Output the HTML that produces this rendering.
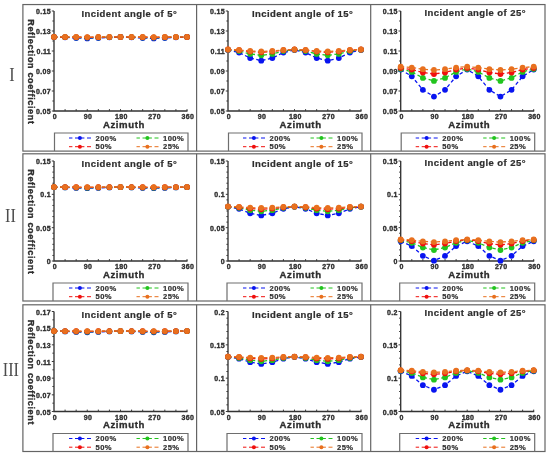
<!DOCTYPE html><html><head><meta charset="utf-8"><style>html,body{margin:0;padding:0;background:#fff;width:550px;height:456px;overflow:hidden}svg{display:block;filter:blur(0.25px)}</style></head><body>
<svg width="550" height="456" viewBox="0 0 550 456">
<rect x="22.9" y="4.55" width="522.1" height="146.55" fill="none" stroke="#646464" stroke-width="1.2"/>
<line x1="196.6" y1="4.55" x2="196.6" y2="151.1" stroke="#646464" stroke-width="1.2"/>
<line x1="370.7" y1="4.55" x2="370.7" y2="151.1" stroke="#646464" stroke-width="1.2"/>
<rect x="22.9" y="153.8" width="522.1" height="147.20" fill="none" stroke="#646464" stroke-width="1.2"/>
<line x1="196.6" y1="153.8" x2="196.6" y2="301.0" stroke="#646464" stroke-width="1.2"/>
<line x1="370.7" y1="153.8" x2="370.7" y2="301.0" stroke="#646464" stroke-width="1.2"/>
<rect x="22.9" y="304.8" width="522.1" height="146.70" fill="none" stroke="#646464" stroke-width="1.2"/>
<line x1="196.6" y1="304.8" x2="196.6" y2="451.5" stroke="#646464" stroke-width="1.2"/>
<line x1="370.7" y1="304.8" x2="370.7" y2="451.5" stroke="#646464" stroke-width="1.2"/>
<text transform="translate(11.9,80.9) scale(0.9,1)" x="0" y="0" text-anchor="middle" style="font-family:'Liberation Serif',serif;font-size:18px" fill="#4c4c4c">I</text>
<text transform="translate(10.4,221.7) scale(0.9,1)" x="0" y="0" text-anchor="middle" style="font-family:'Liberation Serif',serif;font-size:18px" fill="#4c4c4c">II</text>
<text transform="translate(10.9,375.8) scale(0.9,1)" x="0" y="0" text-anchor="middle" style="font-family:'Liberation Serif',serif;font-size:18px" fill="#4c4c4c">III</text>
<text transform="translate(129.3,17.1) scale(1.0,1)" text-anchor="middle" style="font-family:'Liberation Sans',sans-serif;font-weight:bold;font-size:9.5px;letter-spacing:0.42px;stroke:#2e2e2e;stroke-width:0.22px" fill="#2e2e2e">Incident angle of 5°</text>
<path d="M54 11 L54 111 L187.5 111" fill="none" stroke="#333" stroke-width="1.35"/>
<line x1="51.8" y1="111.0" x2="54" y2="111.0" stroke="#3a3a3a" stroke-width="1"/>
<text x="51.1" y="114.0" text-anchor="end" style="font-family:'Liberation Sans',sans-serif;font-weight:bold;font-size:7.0px;letter-spacing:0.35px;stroke:#2e2e2e;stroke-width:0.35px" fill="#2e2e2e">0.05</text>
<line x1="52.4" y1="101.0" x2="54" y2="101.0" stroke="#3a3a3a" stroke-width="1"/>
<line x1="51.8" y1="91.0" x2="54" y2="91.0" stroke="#3a3a3a" stroke-width="1"/>
<text x="51.1" y="94.0" text-anchor="end" style="font-family:'Liberation Sans',sans-serif;font-weight:bold;font-size:7.0px;letter-spacing:0.35px;stroke:#2e2e2e;stroke-width:0.35px" fill="#2e2e2e">0.07</text>
<line x1="52.4" y1="81.0" x2="54" y2="81.0" stroke="#3a3a3a" stroke-width="1"/>
<line x1="51.8" y1="71.0" x2="54" y2="71.0" stroke="#3a3a3a" stroke-width="1"/>
<text x="51.1" y="74.0" text-anchor="end" style="font-family:'Liberation Sans',sans-serif;font-weight:bold;font-size:7.0px;letter-spacing:0.35px;stroke:#2e2e2e;stroke-width:0.35px" fill="#2e2e2e">0.09</text>
<line x1="52.4" y1="60.999999999999986" x2="54" y2="60.999999999999986" stroke="#3a3a3a" stroke-width="1"/>
<line x1="51.8" y1="51.0" x2="54" y2="51.0" stroke="#3a3a3a" stroke-width="1"/>
<text x="51.1" y="54.0" text-anchor="end" style="font-family:'Liberation Sans',sans-serif;font-weight:bold;font-size:7.0px;letter-spacing:0.35px;stroke:#2e2e2e;stroke-width:0.35px" fill="#2e2e2e">0.11</text>
<line x1="52.4" y1="41.0" x2="54" y2="41.0" stroke="#3a3a3a" stroke-width="1"/>
<line x1="51.8" y1="31.0" x2="54" y2="31.0" stroke="#3a3a3a" stroke-width="1"/>
<text x="51.1" y="34.0" text-anchor="end" style="font-family:'Liberation Sans',sans-serif;font-weight:bold;font-size:7.0px;letter-spacing:0.35px;stroke:#2e2e2e;stroke-width:0.35px" fill="#2e2e2e">0.13</text>
<line x1="52.4" y1="20.999999999999986" x2="54" y2="20.999999999999986" stroke="#3a3a3a" stroke-width="1"/>
<line x1="51.8" y1="11.0" x2="54" y2="11.0" stroke="#3a3a3a" stroke-width="1"/>
<text x="51.1" y="14.0" text-anchor="end" style="font-family:'Liberation Sans',sans-serif;font-weight:bold;font-size:7.0px;letter-spacing:0.35px;stroke:#2e2e2e;stroke-width:0.35px" fill="#2e2e2e">0.15</text>
<line x1="65.08333333333333" y1="111" x2="65.08333333333333" y2="109.1" stroke="#3a3a3a" stroke-width="1"/>
<line x1="76.16666666666666" y1="111" x2="76.16666666666666" y2="109.1" stroke="#3a3a3a" stroke-width="1"/>
<line x1="87.25" y1="111" x2="87.25" y2="109.1" stroke="#3a3a3a" stroke-width="1"/>
<line x1="98.33333333333333" y1="111" x2="98.33333333333333" y2="109.1" stroke="#3a3a3a" stroke-width="1"/>
<line x1="109.41666666666667" y1="111" x2="109.41666666666667" y2="109.1" stroke="#3a3a3a" stroke-width="1"/>
<line x1="120.5" y1="111" x2="120.5" y2="109.1" stroke="#3a3a3a" stroke-width="1"/>
<line x1="131.58333333333334" y1="111" x2="131.58333333333334" y2="109.1" stroke="#3a3a3a" stroke-width="1"/>
<line x1="142.66666666666666" y1="111" x2="142.66666666666666" y2="109.1" stroke="#3a3a3a" stroke-width="1"/>
<line x1="153.75" y1="111" x2="153.75" y2="109.1" stroke="#3a3a3a" stroke-width="1"/>
<line x1="164.83333333333334" y1="111" x2="164.83333333333334" y2="109.1" stroke="#3a3a3a" stroke-width="1"/>
<line x1="175.91666666666666" y1="111" x2="175.91666666666666" y2="109.1" stroke="#3a3a3a" stroke-width="1"/>
<line x1="187.0" y1="111" x2="187.0" y2="109.1" stroke="#3a3a3a" stroke-width="1"/>
<text x="54.8" y="119.3" text-anchor="middle" style="font-family:'Liberation Sans',sans-serif;font-weight:bold;font-size:7.0px;letter-spacing:0.35px;stroke:#2e2e2e;stroke-width:0.35px" fill="#2e2e2e">0</text>
<text x="88.05" y="119.3" text-anchor="middle" style="font-family:'Liberation Sans',sans-serif;font-weight:bold;font-size:7.0px;letter-spacing:0.35px;stroke:#2e2e2e;stroke-width:0.35px" fill="#2e2e2e">90</text>
<text x="121.3" y="119.3" text-anchor="middle" style="font-family:'Liberation Sans',sans-serif;font-weight:bold;font-size:7.0px;letter-spacing:0.35px;stroke:#2e2e2e;stroke-width:0.35px" fill="#2e2e2e">180</text>
<text x="154.55" y="119.3" text-anchor="middle" style="font-family:'Liberation Sans',sans-serif;font-weight:bold;font-size:7.0px;letter-spacing:0.35px;stroke:#2e2e2e;stroke-width:0.35px" fill="#2e2e2e">270</text>
<text x="187.8" y="119.3" text-anchor="middle" style="font-family:'Liberation Sans',sans-serif;font-weight:bold;font-size:7.0px;letter-spacing:0.35px;stroke:#2e2e2e;stroke-width:0.35px" fill="#2e2e2e">360</text>
<text x="123.9" y="127.7" text-anchor="middle" style="font-family:'Liberation Sans',sans-serif;font-weight:bold;font-size:9.6px;letter-spacing:0.6px;stroke:#2e2e2e;stroke-width:0.35px" fill="#2e2e2e">Azimuth</text>
<text transform="translate(28.2,71.9) rotate(90)" text-anchor="middle" style="font-family:'Liberation Sans',sans-serif;font-weight:bold;font-size:9.0px;letter-spacing:0.65px;stroke:#2e2e2e;stroke-width:0.35px" fill="#2e2e2e">Reflection coefficient</text>
<path d="M54.00 37.00 L65.08 37.35 L76.17 38.05 L87.25 38.40 L98.33 38.05 L109.42 37.35 L120.50 37.00 L131.58 37.35 L142.67 38.05 L153.75 38.40 L164.83 38.05 L175.92 37.35 L187.00 37.00" fill="none" stroke="#0814f0" stroke-width="1.3" stroke-dasharray="3.5 2.5"/>
<circle cx="54.00" cy="37.00" r="2.9" fill="#0814f0"/>
<circle cx="65.08" cy="37.35" r="2.9" fill="#0814f0"/>
<circle cx="76.17" cy="38.05" r="2.9" fill="#0814f0"/>
<circle cx="87.25" cy="38.40" r="2.9" fill="#0814f0"/>
<circle cx="98.33" cy="38.05" r="2.9" fill="#0814f0"/>
<circle cx="109.42" cy="37.35" r="2.9" fill="#0814f0"/>
<circle cx="120.50" cy="37.00" r="2.9" fill="#0814f0"/>
<circle cx="131.58" cy="37.35" r="2.9" fill="#0814f0"/>
<circle cx="142.67" cy="38.05" r="2.9" fill="#0814f0"/>
<circle cx="153.75" cy="38.40" r="2.9" fill="#0814f0"/>
<circle cx="164.83" cy="38.05" r="2.9" fill="#0814f0"/>
<circle cx="175.92" cy="37.35" r="2.9" fill="#0814f0"/>
<circle cx="187.00" cy="37.00" r="2.9" fill="#0814f0"/>
<path d="M54.00 37.00 L65.08 37.15 L76.17 37.45 L87.25 37.60 L98.33 37.45 L109.42 37.15 L120.50 37.00 L131.58 37.15 L142.67 37.45 L153.75 37.60 L164.83 37.45 L175.92 37.15 L187.00 37.00" fill="none" stroke="#22c41e" stroke-width="1.3" stroke-dasharray="3.5 2.5"/>
<circle cx="54.00" cy="37.00" r="2.9" fill="#22c41e"/>
<circle cx="65.08" cy="37.15" r="2.9" fill="#22c41e"/>
<circle cx="76.17" cy="37.45" r="2.9" fill="#22c41e"/>
<circle cx="87.25" cy="37.60" r="2.9" fill="#22c41e"/>
<circle cx="98.33" cy="37.45" r="2.9" fill="#22c41e"/>
<circle cx="109.42" cy="37.15" r="2.9" fill="#22c41e"/>
<circle cx="120.50" cy="37.00" r="2.9" fill="#22c41e"/>
<circle cx="131.58" cy="37.15" r="2.9" fill="#22c41e"/>
<circle cx="142.67" cy="37.45" r="2.9" fill="#22c41e"/>
<circle cx="153.75" cy="37.60" r="2.9" fill="#22c41e"/>
<circle cx="164.83" cy="37.45" r="2.9" fill="#22c41e"/>
<circle cx="175.92" cy="37.15" r="2.9" fill="#22c41e"/>
<circle cx="187.00" cy="37.00" r="2.9" fill="#22c41e"/>
<path d="M54.00 37.00 L65.08 37.08 L76.17 37.22 L87.25 37.30 L98.33 37.22 L109.42 37.08 L120.50 37.00 L131.58 37.08 L142.67 37.22 L153.75 37.30 L164.83 37.22 L175.92 37.08 L187.00 37.00" fill="none" stroke="#f0100e" stroke-width="1.3" stroke-dasharray="3.5 2.5"/>
<circle cx="54.00" cy="37.00" r="2.9" fill="#f0100e"/>
<circle cx="65.08" cy="37.08" r="2.9" fill="#f0100e"/>
<circle cx="76.17" cy="37.22" r="2.9" fill="#f0100e"/>
<circle cx="87.25" cy="37.30" r="2.9" fill="#f0100e"/>
<circle cx="98.33" cy="37.22" r="2.9" fill="#f0100e"/>
<circle cx="109.42" cy="37.08" r="2.9" fill="#f0100e"/>
<circle cx="120.50" cy="37.00" r="2.9" fill="#f0100e"/>
<circle cx="131.58" cy="37.08" r="2.9" fill="#f0100e"/>
<circle cx="142.67" cy="37.22" r="2.9" fill="#f0100e"/>
<circle cx="153.75" cy="37.30" r="2.9" fill="#f0100e"/>
<circle cx="164.83" cy="37.22" r="2.9" fill="#f0100e"/>
<circle cx="175.92" cy="37.08" r="2.9" fill="#f0100e"/>
<circle cx="187.00" cy="37.00" r="2.9" fill="#f0100e"/>
<path d="M54.00 36.90 L65.08 36.94 L76.17 37.01 L87.25 37.05 L98.33 37.01 L109.42 36.94 L120.50 36.90 L131.58 36.94 L142.67 37.01 L153.75 37.05 L164.83 37.01 L175.92 36.94 L187.00 36.90" fill="none" stroke="#e8701e" stroke-width="1.3" stroke-dasharray="3.5 2.5"/>
<circle cx="54.00" cy="36.90" r="2.9" fill="#e8701e"/>
<circle cx="65.08" cy="36.94" r="2.9" fill="#e8701e"/>
<circle cx="76.17" cy="37.01" r="2.9" fill="#e8701e"/>
<circle cx="87.25" cy="37.05" r="2.9" fill="#e8701e"/>
<circle cx="98.33" cy="37.01" r="2.9" fill="#e8701e"/>
<circle cx="109.42" cy="36.94" r="2.9" fill="#e8701e"/>
<circle cx="120.50" cy="36.90" r="2.9" fill="#e8701e"/>
<circle cx="131.58" cy="36.94" r="2.9" fill="#e8701e"/>
<circle cx="142.67" cy="37.01" r="2.9" fill="#e8701e"/>
<circle cx="153.75" cy="37.05" r="2.9" fill="#e8701e"/>
<circle cx="164.83" cy="37.01" r="2.9" fill="#e8701e"/>
<circle cx="175.92" cy="36.94" r="2.9" fill="#e8701e"/>
<circle cx="187.00" cy="36.90" r="2.9" fill="#e8701e"/>
<path d="M54.5 151.1 L54.5 133 L188.0 133 L188.0 151.1" fill="none" stroke="#6e6e6e" stroke-width="1.2"/>
<line x1="69.0" y1="138.0" x2="91.0" y2="138.0" stroke="#0814f0" stroke-width="1.0" stroke-dasharray="3.4 2.6 9.4 2.6 4"/>
<circle cx="79.9" cy="138.0" r="2.0" fill="#0814f0"/>
<text x="95.5" y="140.7" style="font-family:'Liberation Sans',sans-serif;font-weight:bold;font-size:7.6px;letter-spacing:0.45px;stroke:#2e2e2e;stroke-width:0.2px" fill="#2e2e2e">200%</text>
<line x1="136.5" y1="138.0" x2="158.5" y2="138.0" stroke="#22c41e" stroke-width="1.0" stroke-dasharray="3.4 2.6 9.4 2.6 4"/>
<circle cx="147.4" cy="138.0" r="2.0" fill="#22c41e"/>
<text x="163.0" y="140.7" style="font-family:'Liberation Sans',sans-serif;font-weight:bold;font-size:7.6px;letter-spacing:0.45px;stroke:#2e2e2e;stroke-width:0.2px" fill="#2e2e2e">100%</text>
<line x1="69.0" y1="146.7" x2="91.0" y2="146.7" stroke="#f0100e" stroke-width="1.0" stroke-dasharray="3.4 2.6 9.4 2.6 4"/>
<circle cx="79.9" cy="146.7" r="2.0" fill="#f0100e"/>
<text x="95.5" y="149.39999999999998" style="font-family:'Liberation Sans',sans-serif;font-weight:bold;font-size:7.6px;letter-spacing:0.45px;stroke:#2e2e2e;stroke-width:0.2px" fill="#2e2e2e">50%</text>
<line x1="136.5" y1="146.7" x2="158.5" y2="146.7" stroke="#e8701e" stroke-width="1.0" stroke-dasharray="3.4 2.6 9.4 2.6 4"/>
<circle cx="147.4" cy="146.7" r="2.0" fill="#e8701e"/>
<text x="163.0" y="149.39999999999998" style="font-family:'Liberation Sans',sans-serif;font-weight:bold;font-size:7.6px;letter-spacing:0.45px;stroke:#2e2e2e;stroke-width:0.2px" fill="#2e2e2e">25%</text>
<text transform="translate(302.6,17.1) scale(1.0,1)" text-anchor="middle" style="font-family:'Liberation Sans',sans-serif;font-weight:bold;font-size:9.5px;letter-spacing:0.42px;stroke:#2e2e2e;stroke-width:0.22px" fill="#2e2e2e">Incident angle of 15°</text>
<path d="M228 11 L228 111 L361.5 111" fill="none" stroke="#333" stroke-width="1.35"/>
<line x1="225.8" y1="111.0" x2="228" y2="111.0" stroke="#3a3a3a" stroke-width="1"/>
<text x="225.1" y="114.0" text-anchor="end" style="font-family:'Liberation Sans',sans-serif;font-weight:bold;font-size:7.0px;letter-spacing:0.35px;stroke:#2e2e2e;stroke-width:0.35px" fill="#2e2e2e">0.05</text>
<line x1="226.4" y1="101.0" x2="228" y2="101.0" stroke="#3a3a3a" stroke-width="1"/>
<line x1="225.8" y1="91.0" x2="228" y2="91.0" stroke="#3a3a3a" stroke-width="1"/>
<text x="225.1" y="94.0" text-anchor="end" style="font-family:'Liberation Sans',sans-serif;font-weight:bold;font-size:7.0px;letter-spacing:0.35px;stroke:#2e2e2e;stroke-width:0.35px" fill="#2e2e2e">0.07</text>
<line x1="226.4" y1="81.0" x2="228" y2="81.0" stroke="#3a3a3a" stroke-width="1"/>
<line x1="225.8" y1="71.0" x2="228" y2="71.0" stroke="#3a3a3a" stroke-width="1"/>
<text x="225.1" y="74.0" text-anchor="end" style="font-family:'Liberation Sans',sans-serif;font-weight:bold;font-size:7.0px;letter-spacing:0.35px;stroke:#2e2e2e;stroke-width:0.35px" fill="#2e2e2e">0.09</text>
<line x1="226.4" y1="60.999999999999986" x2="228" y2="60.999999999999986" stroke="#3a3a3a" stroke-width="1"/>
<line x1="225.8" y1="51.0" x2="228" y2="51.0" stroke="#3a3a3a" stroke-width="1"/>
<text x="225.1" y="54.0" text-anchor="end" style="font-family:'Liberation Sans',sans-serif;font-weight:bold;font-size:7.0px;letter-spacing:0.35px;stroke:#2e2e2e;stroke-width:0.35px" fill="#2e2e2e">0.11</text>
<line x1="226.4" y1="41.0" x2="228" y2="41.0" stroke="#3a3a3a" stroke-width="1"/>
<line x1="225.8" y1="31.0" x2="228" y2="31.0" stroke="#3a3a3a" stroke-width="1"/>
<text x="225.1" y="34.0" text-anchor="end" style="font-family:'Liberation Sans',sans-serif;font-weight:bold;font-size:7.0px;letter-spacing:0.35px;stroke:#2e2e2e;stroke-width:0.35px" fill="#2e2e2e">0.13</text>
<line x1="226.4" y1="20.999999999999986" x2="228" y2="20.999999999999986" stroke="#3a3a3a" stroke-width="1"/>
<line x1="225.8" y1="11.0" x2="228" y2="11.0" stroke="#3a3a3a" stroke-width="1"/>
<text x="225.1" y="14.0" text-anchor="end" style="font-family:'Liberation Sans',sans-serif;font-weight:bold;font-size:7.0px;letter-spacing:0.35px;stroke:#2e2e2e;stroke-width:0.35px" fill="#2e2e2e">0.15</text>
<line x1="239.08333333333334" y1="111" x2="239.08333333333334" y2="109.1" stroke="#3a3a3a" stroke-width="1"/>
<line x1="250.16666666666666" y1="111" x2="250.16666666666666" y2="109.1" stroke="#3a3a3a" stroke-width="1"/>
<line x1="261.25" y1="111" x2="261.25" y2="109.1" stroke="#3a3a3a" stroke-width="1"/>
<line x1="272.3333333333333" y1="111" x2="272.3333333333333" y2="109.1" stroke="#3a3a3a" stroke-width="1"/>
<line x1="283.4166666666667" y1="111" x2="283.4166666666667" y2="109.1" stroke="#3a3a3a" stroke-width="1"/>
<line x1="294.5" y1="111" x2="294.5" y2="109.1" stroke="#3a3a3a" stroke-width="1"/>
<line x1="305.58333333333337" y1="111" x2="305.58333333333337" y2="109.1" stroke="#3a3a3a" stroke-width="1"/>
<line x1="316.66666666666663" y1="111" x2="316.66666666666663" y2="109.1" stroke="#3a3a3a" stroke-width="1"/>
<line x1="327.75" y1="111" x2="327.75" y2="109.1" stroke="#3a3a3a" stroke-width="1"/>
<line x1="338.83333333333337" y1="111" x2="338.83333333333337" y2="109.1" stroke="#3a3a3a" stroke-width="1"/>
<line x1="349.91666666666663" y1="111" x2="349.91666666666663" y2="109.1" stroke="#3a3a3a" stroke-width="1"/>
<line x1="361.0" y1="111" x2="361.0" y2="109.1" stroke="#3a3a3a" stroke-width="1"/>
<text x="228.8" y="119.3" text-anchor="middle" style="font-family:'Liberation Sans',sans-serif;font-weight:bold;font-size:7.0px;letter-spacing:0.35px;stroke:#2e2e2e;stroke-width:0.35px" fill="#2e2e2e">0</text>
<text x="262.05" y="119.3" text-anchor="middle" style="font-family:'Liberation Sans',sans-serif;font-weight:bold;font-size:7.0px;letter-spacing:0.35px;stroke:#2e2e2e;stroke-width:0.35px" fill="#2e2e2e">90</text>
<text x="295.3" y="119.3" text-anchor="middle" style="font-family:'Liberation Sans',sans-serif;font-weight:bold;font-size:7.0px;letter-spacing:0.35px;stroke:#2e2e2e;stroke-width:0.35px" fill="#2e2e2e">180</text>
<text x="328.55" y="119.3" text-anchor="middle" style="font-family:'Liberation Sans',sans-serif;font-weight:bold;font-size:7.0px;letter-spacing:0.35px;stroke:#2e2e2e;stroke-width:0.35px" fill="#2e2e2e">270</text>
<text x="361.8" y="119.3" text-anchor="middle" style="font-family:'Liberation Sans',sans-serif;font-weight:bold;font-size:7.0px;letter-spacing:0.35px;stroke:#2e2e2e;stroke-width:0.35px" fill="#2e2e2e">360</text>
<text x="300.6" y="127.7" text-anchor="middle" style="font-family:'Liberation Sans',sans-serif;font-weight:bold;font-size:9.6px;letter-spacing:0.6px;stroke:#2e2e2e;stroke-width:0.35px" fill="#2e2e2e">Azimuth</text>
<path d="M228.00 49.90 L239.08 52.60 L250.17 58.00 L261.25 60.70 L272.33 58.00 L283.42 52.60 L294.50 49.90 L305.58 52.60 L316.67 58.00 L327.75 60.70 L338.83 58.00 L349.92 52.60 L361.00 49.90" fill="none" stroke="#0814f0" stroke-width="1.3" stroke-dasharray="3.5 2.5"/>
<circle cx="228.00" cy="49.90" r="2.9" fill="#0814f0"/>
<circle cx="239.08" cy="52.60" r="2.9" fill="#0814f0"/>
<circle cx="250.17" cy="58.00" r="2.9" fill="#0814f0"/>
<circle cx="261.25" cy="60.70" r="2.9" fill="#0814f0"/>
<circle cx="272.33" cy="58.00" r="2.9" fill="#0814f0"/>
<circle cx="283.42" cy="52.60" r="2.9" fill="#0814f0"/>
<circle cx="294.50" cy="49.90" r="2.9" fill="#0814f0"/>
<circle cx="305.58" cy="52.60" r="2.9" fill="#0814f0"/>
<circle cx="316.67" cy="58.00" r="2.9" fill="#0814f0"/>
<circle cx="327.75" cy="60.70" r="2.9" fill="#0814f0"/>
<circle cx="338.83" cy="58.00" r="2.9" fill="#0814f0"/>
<circle cx="349.92" cy="52.60" r="2.9" fill="#0814f0"/>
<circle cx="361.00" cy="49.90" r="2.9" fill="#0814f0"/>
<path d="M228.00 49.70 L239.08 51.10 L250.17 53.90 L261.25 55.30 L272.33 53.90 L283.42 51.10 L294.50 49.70 L305.58 51.10 L316.67 53.90 L327.75 55.30 L338.83 53.90 L349.92 51.10 L361.00 49.70" fill="none" stroke="#22c41e" stroke-width="1.3" stroke-dasharray="3.5 2.5"/>
<circle cx="228.00" cy="49.70" r="2.9" fill="#22c41e"/>
<circle cx="239.08" cy="51.10" r="2.9" fill="#22c41e"/>
<circle cx="250.17" cy="53.90" r="2.9" fill="#22c41e"/>
<circle cx="261.25" cy="55.30" r="2.9" fill="#22c41e"/>
<circle cx="272.33" cy="53.90" r="2.9" fill="#22c41e"/>
<circle cx="283.42" cy="51.10" r="2.9" fill="#22c41e"/>
<circle cx="294.50" cy="49.70" r="2.9" fill="#22c41e"/>
<circle cx="305.58" cy="51.10" r="2.9" fill="#22c41e"/>
<circle cx="316.67" cy="53.90" r="2.9" fill="#22c41e"/>
<circle cx="327.75" cy="55.30" r="2.9" fill="#22c41e"/>
<circle cx="338.83" cy="53.90" r="2.9" fill="#22c41e"/>
<circle cx="349.92" cy="51.10" r="2.9" fill="#22c41e"/>
<circle cx="361.00" cy="49.70" r="2.9" fill="#22c41e"/>
<path d="M228.00 49.50 L239.08 50.20 L250.17 51.60 L261.25 52.30 L272.33 51.60 L283.42 50.20 L294.50 49.50 L305.58 50.20 L316.67 51.60 L327.75 52.30 L338.83 51.60 L349.92 50.20 L361.00 49.50" fill="none" stroke="#f0100e" stroke-width="1.3" stroke-dasharray="3.5 2.5"/>
<circle cx="228.00" cy="49.50" r="2.9" fill="#f0100e"/>
<circle cx="239.08" cy="50.20" r="2.9" fill="#f0100e"/>
<circle cx="250.17" cy="51.60" r="2.9" fill="#f0100e"/>
<circle cx="261.25" cy="52.30" r="2.9" fill="#f0100e"/>
<circle cx="272.33" cy="51.60" r="2.9" fill="#f0100e"/>
<circle cx="283.42" cy="50.20" r="2.9" fill="#f0100e"/>
<circle cx="294.50" cy="49.50" r="2.9" fill="#f0100e"/>
<circle cx="305.58" cy="50.20" r="2.9" fill="#f0100e"/>
<circle cx="316.67" cy="51.60" r="2.9" fill="#f0100e"/>
<circle cx="327.75" cy="52.30" r="2.9" fill="#f0100e"/>
<circle cx="338.83" cy="51.60" r="2.9" fill="#f0100e"/>
<circle cx="349.92" cy="50.20" r="2.9" fill="#f0100e"/>
<circle cx="361.00" cy="49.50" r="2.9" fill="#f0100e"/>
<path d="M228.00 49.50 L239.08 50.00 L250.17 51.00 L261.25 51.50 L272.33 51.00 L283.42 50.00 L294.50 49.50 L305.58 50.00 L316.67 51.00 L327.75 51.50 L338.83 51.00 L349.92 50.00 L361.00 49.50" fill="none" stroke="#e8701e" stroke-width="1.3" stroke-dasharray="3.5 2.5"/>
<circle cx="228.00" cy="49.50" r="2.9" fill="#e8701e"/>
<circle cx="239.08" cy="50.00" r="2.9" fill="#e8701e"/>
<circle cx="250.17" cy="51.00" r="2.9" fill="#e8701e"/>
<circle cx="261.25" cy="51.50" r="2.9" fill="#e8701e"/>
<circle cx="272.33" cy="51.00" r="2.9" fill="#e8701e"/>
<circle cx="283.42" cy="50.00" r="2.9" fill="#e8701e"/>
<circle cx="294.50" cy="49.50" r="2.9" fill="#e8701e"/>
<circle cx="305.58" cy="50.00" r="2.9" fill="#e8701e"/>
<circle cx="316.67" cy="51.00" r="2.9" fill="#e8701e"/>
<circle cx="327.75" cy="51.50" r="2.9" fill="#e8701e"/>
<circle cx="338.83" cy="51.00" r="2.9" fill="#e8701e"/>
<circle cx="349.92" cy="50.00" r="2.9" fill="#e8701e"/>
<circle cx="361.00" cy="49.50" r="2.9" fill="#e8701e"/>
<path d="M228.5 151.1 L228.5 133 L362.0 133 L362.0 151.1" fill="none" stroke="#6e6e6e" stroke-width="1.2"/>
<line x1="243.0" y1="138.0" x2="265.0" y2="138.0" stroke="#0814f0" stroke-width="1.0" stroke-dasharray="3.4 2.6 9.4 2.6 4"/>
<circle cx="253.9" cy="138.0" r="2.0" fill="#0814f0"/>
<text x="269.5" y="140.7" style="font-family:'Liberation Sans',sans-serif;font-weight:bold;font-size:7.6px;letter-spacing:0.45px;stroke:#2e2e2e;stroke-width:0.2px" fill="#2e2e2e">200%</text>
<line x1="310.5" y1="138.0" x2="332.5" y2="138.0" stroke="#22c41e" stroke-width="1.0" stroke-dasharray="3.4 2.6 9.4 2.6 4"/>
<circle cx="321.4" cy="138.0" r="2.0" fill="#22c41e"/>
<text x="337.0" y="140.7" style="font-family:'Liberation Sans',sans-serif;font-weight:bold;font-size:7.6px;letter-spacing:0.45px;stroke:#2e2e2e;stroke-width:0.2px" fill="#2e2e2e">100%</text>
<line x1="243.0" y1="146.7" x2="265.0" y2="146.7" stroke="#f0100e" stroke-width="1.0" stroke-dasharray="3.4 2.6 9.4 2.6 4"/>
<circle cx="253.9" cy="146.7" r="2.0" fill="#f0100e"/>
<text x="269.5" y="149.39999999999998" style="font-family:'Liberation Sans',sans-serif;font-weight:bold;font-size:7.6px;letter-spacing:0.45px;stroke:#2e2e2e;stroke-width:0.2px" fill="#2e2e2e">50%</text>
<line x1="310.5" y1="146.7" x2="332.5" y2="146.7" stroke="#e8701e" stroke-width="1.0" stroke-dasharray="3.4 2.6 9.4 2.6 4"/>
<circle cx="321.4" cy="146.7" r="2.0" fill="#e8701e"/>
<text x="337.0" y="149.39999999999998" style="font-family:'Liberation Sans',sans-serif;font-weight:bold;font-size:7.6px;letter-spacing:0.45px;stroke:#2e2e2e;stroke-width:0.2px" fill="#2e2e2e">25%</text>
<text transform="translate(475.2,15.500000000000002) scale(1.0,1)" text-anchor="middle" style="font-family:'Liberation Sans',sans-serif;font-weight:bold;font-size:9.5px;letter-spacing:0.42px;stroke:#2e2e2e;stroke-width:0.22px" fill="#2e2e2e">Incident angle of 25°</text>
<path d="M400.7 11 L400.7 111 L534.2 111" fill="none" stroke="#333" stroke-width="1.35"/>
<line x1="398.5" y1="111.0" x2="400.7" y2="111.0" stroke="#3a3a3a" stroke-width="1"/>
<text x="397.8" y="114.0" text-anchor="end" style="font-family:'Liberation Sans',sans-serif;font-weight:bold;font-size:7.0px;letter-spacing:0.35px;stroke:#2e2e2e;stroke-width:0.35px" fill="#2e2e2e">0.05</text>
<line x1="399.09999999999997" y1="101.0" x2="400.7" y2="101.0" stroke="#3a3a3a" stroke-width="1"/>
<line x1="398.5" y1="91.0" x2="400.7" y2="91.0" stroke="#3a3a3a" stroke-width="1"/>
<text x="397.8" y="94.0" text-anchor="end" style="font-family:'Liberation Sans',sans-serif;font-weight:bold;font-size:7.0px;letter-spacing:0.35px;stroke:#2e2e2e;stroke-width:0.35px" fill="#2e2e2e">0.07</text>
<line x1="399.09999999999997" y1="81.0" x2="400.7" y2="81.0" stroke="#3a3a3a" stroke-width="1"/>
<line x1="398.5" y1="71.0" x2="400.7" y2="71.0" stroke="#3a3a3a" stroke-width="1"/>
<text x="397.8" y="74.0" text-anchor="end" style="font-family:'Liberation Sans',sans-serif;font-weight:bold;font-size:7.0px;letter-spacing:0.35px;stroke:#2e2e2e;stroke-width:0.35px" fill="#2e2e2e">0.09</text>
<line x1="399.09999999999997" y1="60.999999999999986" x2="400.7" y2="60.999999999999986" stroke="#3a3a3a" stroke-width="1"/>
<line x1="398.5" y1="51.0" x2="400.7" y2="51.0" stroke="#3a3a3a" stroke-width="1"/>
<text x="397.8" y="54.0" text-anchor="end" style="font-family:'Liberation Sans',sans-serif;font-weight:bold;font-size:7.0px;letter-spacing:0.35px;stroke:#2e2e2e;stroke-width:0.35px" fill="#2e2e2e">0.11</text>
<line x1="399.09999999999997" y1="41.0" x2="400.7" y2="41.0" stroke="#3a3a3a" stroke-width="1"/>
<line x1="398.5" y1="31.0" x2="400.7" y2="31.0" stroke="#3a3a3a" stroke-width="1"/>
<text x="397.8" y="34.0" text-anchor="end" style="font-family:'Liberation Sans',sans-serif;font-weight:bold;font-size:7.0px;letter-spacing:0.35px;stroke:#2e2e2e;stroke-width:0.35px" fill="#2e2e2e">0.13</text>
<line x1="399.09999999999997" y1="20.999999999999986" x2="400.7" y2="20.999999999999986" stroke="#3a3a3a" stroke-width="1"/>
<line x1="398.5" y1="11.0" x2="400.7" y2="11.0" stroke="#3a3a3a" stroke-width="1"/>
<text x="397.8" y="14.0" text-anchor="end" style="font-family:'Liberation Sans',sans-serif;font-weight:bold;font-size:7.0px;letter-spacing:0.35px;stroke:#2e2e2e;stroke-width:0.35px" fill="#2e2e2e">0.15</text>
<line x1="411.7833333333333" y1="111" x2="411.7833333333333" y2="109.1" stroke="#3a3a3a" stroke-width="1"/>
<line x1="422.8666666666667" y1="111" x2="422.8666666666667" y2="109.1" stroke="#3a3a3a" stroke-width="1"/>
<line x1="433.95" y1="111" x2="433.95" y2="109.1" stroke="#3a3a3a" stroke-width="1"/>
<line x1="445.0333333333333" y1="111" x2="445.0333333333333" y2="109.1" stroke="#3a3a3a" stroke-width="1"/>
<line x1="456.1166666666667" y1="111" x2="456.1166666666667" y2="109.1" stroke="#3a3a3a" stroke-width="1"/>
<line x1="467.2" y1="111" x2="467.2" y2="109.1" stroke="#3a3a3a" stroke-width="1"/>
<line x1="478.2833333333333" y1="111" x2="478.2833333333333" y2="109.1" stroke="#3a3a3a" stroke-width="1"/>
<line x1="489.3666666666667" y1="111" x2="489.3666666666667" y2="109.1" stroke="#3a3a3a" stroke-width="1"/>
<line x1="500.45" y1="111" x2="500.45" y2="109.1" stroke="#3a3a3a" stroke-width="1"/>
<line x1="511.5333333333333" y1="111" x2="511.5333333333333" y2="109.1" stroke="#3a3a3a" stroke-width="1"/>
<line x1="522.6166666666667" y1="111" x2="522.6166666666667" y2="109.1" stroke="#3a3a3a" stroke-width="1"/>
<line x1="533.7" y1="111" x2="533.7" y2="109.1" stroke="#3a3a3a" stroke-width="1"/>
<text x="401.5" y="119.3" text-anchor="middle" style="font-family:'Liberation Sans',sans-serif;font-weight:bold;font-size:7.0px;letter-spacing:0.35px;stroke:#2e2e2e;stroke-width:0.35px" fill="#2e2e2e">0</text>
<text x="434.75" y="119.3" text-anchor="middle" style="font-family:'Liberation Sans',sans-serif;font-weight:bold;font-size:7.0px;letter-spacing:0.35px;stroke:#2e2e2e;stroke-width:0.35px" fill="#2e2e2e">90</text>
<text x="468.0" y="119.3" text-anchor="middle" style="font-family:'Liberation Sans',sans-serif;font-weight:bold;font-size:7.0px;letter-spacing:0.35px;stroke:#2e2e2e;stroke-width:0.35px" fill="#2e2e2e">180</text>
<text x="501.25" y="119.3" text-anchor="middle" style="font-family:'Liberation Sans',sans-serif;font-weight:bold;font-size:7.0px;letter-spacing:0.35px;stroke:#2e2e2e;stroke-width:0.35px" fill="#2e2e2e">270</text>
<text x="534.5" y="119.3" text-anchor="middle" style="font-family:'Liberation Sans',sans-serif;font-weight:bold;font-size:7.0px;letter-spacing:0.35px;stroke:#2e2e2e;stroke-width:0.35px" fill="#2e2e2e">360</text>
<text x="469.29999999999995" y="127.7" text-anchor="middle" style="font-family:'Liberation Sans',sans-serif;font-weight:bold;font-size:9.6px;letter-spacing:0.6px;stroke:#2e2e2e;stroke-width:0.35px" fill="#2e2e2e">Azimuth</text>
<path d="M400.70 69.60 L411.78 76.35 L422.87 89.85 L433.95 96.60 L445.03 89.85 L456.12 76.35 L467.20 69.60 L478.28 76.35 L489.37 89.85 L500.45 96.60 L511.53 89.85 L522.62 76.35 L533.70 69.60" fill="none" stroke="#0814f0" stroke-width="1.3" stroke-dasharray="3.5 2.5"/>
<circle cx="400.70" cy="69.60" r="2.9" fill="#0814f0"/>
<circle cx="411.78" cy="76.35" r="2.9" fill="#0814f0"/>
<circle cx="422.87" cy="89.85" r="2.9" fill="#0814f0"/>
<circle cx="433.95" cy="96.60" r="2.9" fill="#0814f0"/>
<circle cx="445.03" cy="89.85" r="2.9" fill="#0814f0"/>
<circle cx="456.12" cy="76.35" r="2.9" fill="#0814f0"/>
<circle cx="467.20" cy="69.60" r="2.9" fill="#0814f0"/>
<circle cx="478.28" cy="76.35" r="2.9" fill="#0814f0"/>
<circle cx="489.37" cy="89.85" r="2.9" fill="#0814f0"/>
<circle cx="500.45" cy="96.60" r="2.9" fill="#0814f0"/>
<circle cx="511.53" cy="89.85" r="2.9" fill="#0814f0"/>
<circle cx="522.62" cy="76.35" r="2.9" fill="#0814f0"/>
<circle cx="533.70" cy="69.60" r="2.9" fill="#0814f0"/>
<path d="M400.70 68.90 L411.78 71.90 L422.87 77.90 L433.95 80.90 L445.03 77.90 L456.12 71.90 L467.20 68.90 L478.28 71.90 L489.37 77.90 L500.45 80.90 L511.53 77.90 L522.62 71.90 L533.70 68.90" fill="none" stroke="#22c41e" stroke-width="1.3" stroke-dasharray="3.5 2.5"/>
<circle cx="400.70" cy="68.90" r="2.9" fill="#22c41e"/>
<circle cx="411.78" cy="71.90" r="2.9" fill="#22c41e"/>
<circle cx="422.87" cy="77.90" r="2.9" fill="#22c41e"/>
<circle cx="433.95" cy="80.90" r="2.9" fill="#22c41e"/>
<circle cx="445.03" cy="77.90" r="2.9" fill="#22c41e"/>
<circle cx="456.12" cy="71.90" r="2.9" fill="#22c41e"/>
<circle cx="467.20" cy="68.90" r="2.9" fill="#22c41e"/>
<circle cx="478.28" cy="71.90" r="2.9" fill="#22c41e"/>
<circle cx="489.37" cy="77.90" r="2.9" fill="#22c41e"/>
<circle cx="500.45" cy="80.90" r="2.9" fill="#22c41e"/>
<circle cx="511.53" cy="77.90" r="2.9" fill="#22c41e"/>
<circle cx="522.62" cy="71.90" r="2.9" fill="#22c41e"/>
<circle cx="533.70" cy="68.90" r="2.9" fill="#22c41e"/>
<path d="M400.70 68.00 L411.78 69.50 L422.87 72.50 L433.95 74.00 L445.03 72.50 L456.12 69.50 L467.20 68.00 L478.28 69.50 L489.37 72.50 L500.45 74.00 L511.53 72.50 L522.62 69.50 L533.70 68.00" fill="none" stroke="#f0100e" stroke-width="1.3" stroke-dasharray="3.5 2.5"/>
<circle cx="400.70" cy="68.00" r="2.9" fill="#f0100e"/>
<circle cx="411.78" cy="69.50" r="2.9" fill="#f0100e"/>
<circle cx="422.87" cy="72.50" r="2.9" fill="#f0100e"/>
<circle cx="433.95" cy="74.00" r="2.9" fill="#f0100e"/>
<circle cx="445.03" cy="72.50" r="2.9" fill="#f0100e"/>
<circle cx="456.12" cy="69.50" r="2.9" fill="#f0100e"/>
<circle cx="467.20" cy="68.00" r="2.9" fill="#f0100e"/>
<circle cx="478.28" cy="69.50" r="2.9" fill="#f0100e"/>
<circle cx="489.37" cy="72.50" r="2.9" fill="#f0100e"/>
<circle cx="500.45" cy="74.00" r="2.9" fill="#f0100e"/>
<circle cx="511.53" cy="72.50" r="2.9" fill="#f0100e"/>
<circle cx="522.62" cy="69.50" r="2.9" fill="#f0100e"/>
<circle cx="533.70" cy="68.00" r="2.9" fill="#f0100e"/>
<path d="M400.70 66.70 L411.78 67.53 L422.87 69.18 L433.95 70.00 L445.03 69.18 L456.12 67.53 L467.20 66.70 L478.28 67.53 L489.37 69.18 L500.45 70.00 L511.53 69.18 L522.62 67.53 L533.70 66.70" fill="none" stroke="#e8701e" stroke-width="1.3" stroke-dasharray="3.5 2.5"/>
<circle cx="400.70" cy="66.70" r="2.9" fill="#e8701e"/>
<circle cx="411.78" cy="67.53" r="2.9" fill="#e8701e"/>
<circle cx="422.87" cy="69.18" r="2.9" fill="#e8701e"/>
<circle cx="433.95" cy="70.00" r="2.9" fill="#e8701e"/>
<circle cx="445.03" cy="69.18" r="2.9" fill="#e8701e"/>
<circle cx="456.12" cy="67.53" r="2.9" fill="#e8701e"/>
<circle cx="467.20" cy="66.70" r="2.9" fill="#e8701e"/>
<circle cx="478.28" cy="67.53" r="2.9" fill="#e8701e"/>
<circle cx="489.37" cy="69.18" r="2.9" fill="#e8701e"/>
<circle cx="500.45" cy="70.00" r="2.9" fill="#e8701e"/>
<circle cx="511.53" cy="69.18" r="2.9" fill="#e8701e"/>
<circle cx="522.62" cy="67.53" r="2.9" fill="#e8701e"/>
<circle cx="533.70" cy="66.70" r="2.9" fill="#e8701e"/>
<path d="M401.2 151.1 L401.2 133 L534.7 133 L534.7 151.1" fill="none" stroke="#6e6e6e" stroke-width="1.2"/>
<line x1="415.7" y1="138.0" x2="437.7" y2="138.0" stroke="#0814f0" stroke-width="1.0" stroke-dasharray="3.4 2.6 9.4 2.6 4"/>
<circle cx="426.59999999999997" cy="138.0" r="2.0" fill="#0814f0"/>
<text x="442.2" y="140.7" style="font-family:'Liberation Sans',sans-serif;font-weight:bold;font-size:7.6px;letter-spacing:0.45px;stroke:#2e2e2e;stroke-width:0.2px" fill="#2e2e2e">200%</text>
<line x1="483.2" y1="138.0" x2="505.2" y2="138.0" stroke="#22c41e" stroke-width="1.0" stroke-dasharray="3.4 2.6 9.4 2.6 4"/>
<circle cx="494.09999999999997" cy="138.0" r="2.0" fill="#22c41e"/>
<text x="509.7" y="140.7" style="font-family:'Liberation Sans',sans-serif;font-weight:bold;font-size:7.6px;letter-spacing:0.45px;stroke:#2e2e2e;stroke-width:0.2px" fill="#2e2e2e">100%</text>
<line x1="415.7" y1="146.7" x2="437.7" y2="146.7" stroke="#f0100e" stroke-width="1.0" stroke-dasharray="3.4 2.6 9.4 2.6 4"/>
<circle cx="426.59999999999997" cy="146.7" r="2.0" fill="#f0100e"/>
<text x="442.2" y="149.39999999999998" style="font-family:'Liberation Sans',sans-serif;font-weight:bold;font-size:7.6px;letter-spacing:0.45px;stroke:#2e2e2e;stroke-width:0.2px" fill="#2e2e2e">50%</text>
<line x1="483.2" y1="146.7" x2="505.2" y2="146.7" stroke="#e8701e" stroke-width="1.0" stroke-dasharray="3.4 2.6 9.4 2.6 4"/>
<circle cx="494.09999999999997" cy="146.7" r="2.0" fill="#e8701e"/>
<text x="509.7" y="149.39999999999998" style="font-family:'Liberation Sans',sans-serif;font-weight:bold;font-size:7.6px;letter-spacing:0.45px;stroke:#2e2e2e;stroke-width:0.2px" fill="#2e2e2e">25%</text>
<text transform="translate(129.3,167.1) scale(1.0,1)" text-anchor="middle" style="font-family:'Liberation Sans',sans-serif;font-weight:bold;font-size:9.5px;letter-spacing:0.42px;stroke:#2e2e2e;stroke-width:0.22px" fill="#2e2e2e">Incident angle of 5°</text>
<path d="M54 161 L54 261 L187.5 261" fill="none" stroke="#333" stroke-width="1.35"/>
<line x1="51.8" y1="261.0" x2="54" y2="261.0" stroke="#3a3a3a" stroke-width="1"/>
<text x="51.1" y="264.0" text-anchor="end" style="font-family:'Liberation Sans',sans-serif;font-weight:bold;font-size:7.0px;letter-spacing:0.35px;stroke:#2e2e2e;stroke-width:0.35px" fill="#2e2e2e">0</text>
<line x1="52.4" y1="255.44444444444446" x2="54" y2="255.44444444444446" stroke="#3a3a3a" stroke-width="1"/>
<line x1="52.4" y1="249.88888888888889" x2="54" y2="249.88888888888889" stroke="#3a3a3a" stroke-width="1"/>
<line x1="52.4" y1="244.33333333333334" x2="54" y2="244.33333333333334" stroke="#3a3a3a" stroke-width="1"/>
<line x1="52.4" y1="238.77777777777777" x2="54" y2="238.77777777777777" stroke="#3a3a3a" stroke-width="1"/>
<line x1="52.4" y1="233.22222222222223" x2="54" y2="233.22222222222223" stroke="#3a3a3a" stroke-width="1"/>
<line x1="51.8" y1="227.66666666666666" x2="54" y2="227.66666666666666" stroke="#3a3a3a" stroke-width="1"/>
<text x="51.1" y="230.66666666666666" text-anchor="end" style="font-family:'Liberation Sans',sans-serif;font-weight:bold;font-size:7.0px;letter-spacing:0.35px;stroke:#2e2e2e;stroke-width:0.35px" fill="#2e2e2e">0.05</text>
<line x1="52.4" y1="222.11111111111111" x2="54" y2="222.11111111111111" stroke="#3a3a3a" stroke-width="1"/>
<line x1="52.4" y1="216.55555555555554" x2="54" y2="216.55555555555554" stroke="#3a3a3a" stroke-width="1"/>
<line x1="52.4" y1="211.0" x2="54" y2="211.0" stroke="#3a3a3a" stroke-width="1"/>
<line x1="52.4" y1="205.44444444444443" x2="54" y2="205.44444444444443" stroke="#3a3a3a" stroke-width="1"/>
<line x1="52.4" y1="199.88888888888889" x2="54" y2="199.88888888888889" stroke="#3a3a3a" stroke-width="1"/>
<line x1="51.8" y1="194.33333333333331" x2="54" y2="194.33333333333331" stroke="#3a3a3a" stroke-width="1"/>
<text x="51.1" y="197.33333333333331" text-anchor="end" style="font-family:'Liberation Sans',sans-serif;font-weight:bold;font-size:7.0px;letter-spacing:0.35px;stroke:#2e2e2e;stroke-width:0.35px" fill="#2e2e2e">0.1</text>
<line x1="52.4" y1="188.77777777777777" x2="54" y2="188.77777777777777" stroke="#3a3a3a" stroke-width="1"/>
<line x1="52.4" y1="183.22222222222223" x2="54" y2="183.22222222222223" stroke="#3a3a3a" stroke-width="1"/>
<line x1="52.4" y1="177.66666666666666" x2="54" y2="177.66666666666666" stroke="#3a3a3a" stroke-width="1"/>
<line x1="52.4" y1="172.1111111111111" x2="54" y2="172.1111111111111" stroke="#3a3a3a" stroke-width="1"/>
<line x1="52.4" y1="166.55555555555554" x2="54" y2="166.55555555555554" stroke="#3a3a3a" stroke-width="1"/>
<line x1="51.8" y1="161.0" x2="54" y2="161.0" stroke="#3a3a3a" stroke-width="1"/>
<text x="51.1" y="164.0" text-anchor="end" style="font-family:'Liberation Sans',sans-serif;font-weight:bold;font-size:7.0px;letter-spacing:0.35px;stroke:#2e2e2e;stroke-width:0.35px" fill="#2e2e2e">0.15</text>
<line x1="65.08333333333333" y1="261" x2="65.08333333333333" y2="259.1" stroke="#3a3a3a" stroke-width="1"/>
<line x1="76.16666666666666" y1="261" x2="76.16666666666666" y2="259.1" stroke="#3a3a3a" stroke-width="1"/>
<line x1="87.25" y1="261" x2="87.25" y2="259.1" stroke="#3a3a3a" stroke-width="1"/>
<line x1="98.33333333333333" y1="261" x2="98.33333333333333" y2="259.1" stroke="#3a3a3a" stroke-width="1"/>
<line x1="109.41666666666667" y1="261" x2="109.41666666666667" y2="259.1" stroke="#3a3a3a" stroke-width="1"/>
<line x1="120.5" y1="261" x2="120.5" y2="259.1" stroke="#3a3a3a" stroke-width="1"/>
<line x1="131.58333333333334" y1="261" x2="131.58333333333334" y2="259.1" stroke="#3a3a3a" stroke-width="1"/>
<line x1="142.66666666666666" y1="261" x2="142.66666666666666" y2="259.1" stroke="#3a3a3a" stroke-width="1"/>
<line x1="153.75" y1="261" x2="153.75" y2="259.1" stroke="#3a3a3a" stroke-width="1"/>
<line x1="164.83333333333334" y1="261" x2="164.83333333333334" y2="259.1" stroke="#3a3a3a" stroke-width="1"/>
<line x1="175.91666666666666" y1="261" x2="175.91666666666666" y2="259.1" stroke="#3a3a3a" stroke-width="1"/>
<line x1="187.0" y1="261" x2="187.0" y2="259.1" stroke="#3a3a3a" stroke-width="1"/>
<text x="54.8" y="269.3" text-anchor="middle" style="font-family:'Liberation Sans',sans-serif;font-weight:bold;font-size:7.0px;letter-spacing:0.35px;stroke:#2e2e2e;stroke-width:0.35px" fill="#2e2e2e">0</text>
<text x="88.05" y="269.3" text-anchor="middle" style="font-family:'Liberation Sans',sans-serif;font-weight:bold;font-size:7.0px;letter-spacing:0.35px;stroke:#2e2e2e;stroke-width:0.35px" fill="#2e2e2e">90</text>
<text x="121.3" y="269.3" text-anchor="middle" style="font-family:'Liberation Sans',sans-serif;font-weight:bold;font-size:7.0px;letter-spacing:0.35px;stroke:#2e2e2e;stroke-width:0.35px" fill="#2e2e2e">180</text>
<text x="154.55" y="269.3" text-anchor="middle" style="font-family:'Liberation Sans',sans-serif;font-weight:bold;font-size:7.0px;letter-spacing:0.35px;stroke:#2e2e2e;stroke-width:0.35px" fill="#2e2e2e">270</text>
<text x="187.8" y="269.3" text-anchor="middle" style="font-family:'Liberation Sans',sans-serif;font-weight:bold;font-size:7.0px;letter-spacing:0.35px;stroke:#2e2e2e;stroke-width:0.35px" fill="#2e2e2e">360</text>
<text x="123.9" y="277.7" text-anchor="middle" style="font-family:'Liberation Sans',sans-serif;font-weight:bold;font-size:9.6px;letter-spacing:0.6px;stroke:#2e2e2e;stroke-width:0.35px" fill="#2e2e2e">Azimuth</text>
<text transform="translate(28.2,221.9) rotate(90)" text-anchor="middle" style="font-family:'Liberation Sans',sans-serif;font-weight:bold;font-size:9.0px;letter-spacing:0.65px;stroke:#2e2e2e;stroke-width:0.35px" fill="#2e2e2e">Reflection coefficient</text>
<path d="M54.00 187.20 L65.08 187.45 L76.17 187.95 L87.25 188.20 L98.33 187.95 L109.42 187.45 L120.50 187.20 L131.58 187.45 L142.67 187.95 L153.75 188.20 L164.83 187.95 L175.92 187.45 L187.00 187.20" fill="none" stroke="#0814f0" stroke-width="1.3" stroke-dasharray="3.5 2.5"/>
<circle cx="54.00" cy="187.20" r="2.9" fill="#0814f0"/>
<circle cx="65.08" cy="187.45" r="2.9" fill="#0814f0"/>
<circle cx="76.17" cy="187.95" r="2.9" fill="#0814f0"/>
<circle cx="87.25" cy="188.20" r="2.9" fill="#0814f0"/>
<circle cx="98.33" cy="187.95" r="2.9" fill="#0814f0"/>
<circle cx="109.42" cy="187.45" r="2.9" fill="#0814f0"/>
<circle cx="120.50" cy="187.20" r="2.9" fill="#0814f0"/>
<circle cx="131.58" cy="187.45" r="2.9" fill="#0814f0"/>
<circle cx="142.67" cy="187.95" r="2.9" fill="#0814f0"/>
<circle cx="153.75" cy="188.20" r="2.9" fill="#0814f0"/>
<circle cx="164.83" cy="187.95" r="2.9" fill="#0814f0"/>
<circle cx="175.92" cy="187.45" r="2.9" fill="#0814f0"/>
<circle cx="187.00" cy="187.20" r="2.9" fill="#0814f0"/>
<path d="M54.00 187.20 L65.08 187.32 L76.17 187.55 L87.25 187.67 L98.33 187.55 L109.42 187.32 L120.50 187.20 L131.58 187.32 L142.67 187.55 L153.75 187.67 L164.83 187.55 L175.92 187.32 L187.00 187.20" fill="none" stroke="#22c41e" stroke-width="1.3" stroke-dasharray="3.5 2.5"/>
<circle cx="54.00" cy="187.20" r="2.9" fill="#22c41e"/>
<circle cx="65.08" cy="187.32" r="2.9" fill="#22c41e"/>
<circle cx="76.17" cy="187.55" r="2.9" fill="#22c41e"/>
<circle cx="87.25" cy="187.67" r="2.9" fill="#22c41e"/>
<circle cx="98.33" cy="187.55" r="2.9" fill="#22c41e"/>
<circle cx="109.42" cy="187.32" r="2.9" fill="#22c41e"/>
<circle cx="120.50" cy="187.20" r="2.9" fill="#22c41e"/>
<circle cx="131.58" cy="187.32" r="2.9" fill="#22c41e"/>
<circle cx="142.67" cy="187.55" r="2.9" fill="#22c41e"/>
<circle cx="153.75" cy="187.67" r="2.9" fill="#22c41e"/>
<circle cx="164.83" cy="187.55" r="2.9" fill="#22c41e"/>
<circle cx="175.92" cy="187.32" r="2.9" fill="#22c41e"/>
<circle cx="187.00" cy="187.20" r="2.9" fill="#22c41e"/>
<path d="M54.00 187.07 L65.08 187.13 L76.17 187.27 L87.25 187.33 L98.33 187.27 L109.42 187.13 L120.50 187.07 L131.58 187.13 L142.67 187.27 L153.75 187.33 L164.83 187.27 L175.92 187.13 L187.00 187.07" fill="none" stroke="#f0100e" stroke-width="1.3" stroke-dasharray="3.5 2.5"/>
<circle cx="54.00" cy="187.07" r="2.9" fill="#f0100e"/>
<circle cx="65.08" cy="187.13" r="2.9" fill="#f0100e"/>
<circle cx="76.17" cy="187.27" r="2.9" fill="#f0100e"/>
<circle cx="87.25" cy="187.33" r="2.9" fill="#f0100e"/>
<circle cx="98.33" cy="187.27" r="2.9" fill="#f0100e"/>
<circle cx="109.42" cy="187.13" r="2.9" fill="#f0100e"/>
<circle cx="120.50" cy="187.07" r="2.9" fill="#f0100e"/>
<circle cx="131.58" cy="187.13" r="2.9" fill="#f0100e"/>
<circle cx="142.67" cy="187.27" r="2.9" fill="#f0100e"/>
<circle cx="153.75" cy="187.33" r="2.9" fill="#f0100e"/>
<circle cx="164.83" cy="187.27" r="2.9" fill="#f0100e"/>
<circle cx="175.92" cy="187.13" r="2.9" fill="#f0100e"/>
<circle cx="187.00" cy="187.07" r="2.9" fill="#f0100e"/>
<path d="M54.00 187.00 L65.08 187.03 L76.17 187.10 L87.25 187.13 L98.33 187.10 L109.42 187.03 L120.50 187.00 L131.58 187.03 L142.67 187.10 L153.75 187.13 L164.83 187.10 L175.92 187.03 L187.00 187.00" fill="none" stroke="#e8701e" stroke-width="1.3" stroke-dasharray="3.5 2.5"/>
<circle cx="54.00" cy="187.00" r="2.9" fill="#e8701e"/>
<circle cx="65.08" cy="187.03" r="2.9" fill="#e8701e"/>
<circle cx="76.17" cy="187.10" r="2.9" fill="#e8701e"/>
<circle cx="87.25" cy="187.13" r="2.9" fill="#e8701e"/>
<circle cx="98.33" cy="187.10" r="2.9" fill="#e8701e"/>
<circle cx="109.42" cy="187.03" r="2.9" fill="#e8701e"/>
<circle cx="120.50" cy="187.00" r="2.9" fill="#e8701e"/>
<circle cx="131.58" cy="187.03" r="2.9" fill="#e8701e"/>
<circle cx="142.67" cy="187.10" r="2.9" fill="#e8701e"/>
<circle cx="153.75" cy="187.13" r="2.9" fill="#e8701e"/>
<circle cx="164.83" cy="187.10" r="2.9" fill="#e8701e"/>
<circle cx="175.92" cy="187.03" r="2.9" fill="#e8701e"/>
<circle cx="187.00" cy="187.00" r="2.9" fill="#e8701e"/>
<path d="M53 301.0 L53 283 L188 283 L188 301.0" fill="none" stroke="#6e6e6e" stroke-width="1.2"/>
<line x1="69.0" y1="288.0" x2="91.0" y2="288.0" stroke="#0814f0" stroke-width="1.0" stroke-dasharray="3.4 2.6 9.4 2.6 4"/>
<circle cx="79.9" cy="288.0" r="2.0" fill="#0814f0"/>
<text x="95.5" y="290.7" style="font-family:'Liberation Sans',sans-serif;font-weight:bold;font-size:7.6px;letter-spacing:0.45px;stroke:#2e2e2e;stroke-width:0.2px" fill="#2e2e2e">200%</text>
<line x1="136.5" y1="288.0" x2="158.5" y2="288.0" stroke="#22c41e" stroke-width="1.0" stroke-dasharray="3.4 2.6 9.4 2.6 4"/>
<circle cx="147.4" cy="288.0" r="2.0" fill="#22c41e"/>
<text x="163.0" y="290.7" style="font-family:'Liberation Sans',sans-serif;font-weight:bold;font-size:7.6px;letter-spacing:0.45px;stroke:#2e2e2e;stroke-width:0.2px" fill="#2e2e2e">100%</text>
<line x1="69.0" y1="296.7" x2="91.0" y2="296.7" stroke="#f0100e" stroke-width="1.0" stroke-dasharray="3.4 2.6 9.4 2.6 4"/>
<circle cx="79.9" cy="296.7" r="2.0" fill="#f0100e"/>
<text x="95.5" y="299.4" style="font-family:'Liberation Sans',sans-serif;font-weight:bold;font-size:7.6px;letter-spacing:0.45px;stroke:#2e2e2e;stroke-width:0.2px" fill="#2e2e2e">50%</text>
<line x1="136.5" y1="296.7" x2="158.5" y2="296.7" stroke="#e8701e" stroke-width="1.0" stroke-dasharray="3.4 2.6 9.4 2.6 4"/>
<circle cx="147.4" cy="296.7" r="2.0" fill="#e8701e"/>
<text x="163.0" y="299.4" style="font-family:'Liberation Sans',sans-serif;font-weight:bold;font-size:7.6px;letter-spacing:0.45px;stroke:#2e2e2e;stroke-width:0.2px" fill="#2e2e2e">25%</text>
<text transform="translate(302.6,167.1) scale(1.0,1)" text-anchor="middle" style="font-family:'Liberation Sans',sans-serif;font-weight:bold;font-size:9.5px;letter-spacing:0.42px;stroke:#2e2e2e;stroke-width:0.22px" fill="#2e2e2e">Incident angle of 15°</text>
<path d="M228 161 L228 261 L361.5 261" fill="none" stroke="#333" stroke-width="1.35"/>
<line x1="225.8" y1="261.0" x2="228" y2="261.0" stroke="#3a3a3a" stroke-width="1"/>
<text x="225.1" y="264.0" text-anchor="end" style="font-family:'Liberation Sans',sans-serif;font-weight:bold;font-size:7.0px;letter-spacing:0.35px;stroke:#2e2e2e;stroke-width:0.35px" fill="#2e2e2e">0</text>
<line x1="226.4" y1="255.44444444444446" x2="228" y2="255.44444444444446" stroke="#3a3a3a" stroke-width="1"/>
<line x1="226.4" y1="249.88888888888889" x2="228" y2="249.88888888888889" stroke="#3a3a3a" stroke-width="1"/>
<line x1="226.4" y1="244.33333333333334" x2="228" y2="244.33333333333334" stroke="#3a3a3a" stroke-width="1"/>
<line x1="226.4" y1="238.77777777777777" x2="228" y2="238.77777777777777" stroke="#3a3a3a" stroke-width="1"/>
<line x1="226.4" y1="233.22222222222223" x2="228" y2="233.22222222222223" stroke="#3a3a3a" stroke-width="1"/>
<line x1="225.8" y1="227.66666666666666" x2="228" y2="227.66666666666666" stroke="#3a3a3a" stroke-width="1"/>
<text x="225.1" y="230.66666666666666" text-anchor="end" style="font-family:'Liberation Sans',sans-serif;font-weight:bold;font-size:7.0px;letter-spacing:0.35px;stroke:#2e2e2e;stroke-width:0.35px" fill="#2e2e2e">0.05</text>
<line x1="226.4" y1="222.11111111111111" x2="228" y2="222.11111111111111" stroke="#3a3a3a" stroke-width="1"/>
<line x1="226.4" y1="216.55555555555554" x2="228" y2="216.55555555555554" stroke="#3a3a3a" stroke-width="1"/>
<line x1="226.4" y1="211.0" x2="228" y2="211.0" stroke="#3a3a3a" stroke-width="1"/>
<line x1="226.4" y1="205.44444444444443" x2="228" y2="205.44444444444443" stroke="#3a3a3a" stroke-width="1"/>
<line x1="226.4" y1="199.88888888888889" x2="228" y2="199.88888888888889" stroke="#3a3a3a" stroke-width="1"/>
<line x1="225.8" y1="194.33333333333331" x2="228" y2="194.33333333333331" stroke="#3a3a3a" stroke-width="1"/>
<text x="225.1" y="197.33333333333331" text-anchor="end" style="font-family:'Liberation Sans',sans-serif;font-weight:bold;font-size:7.0px;letter-spacing:0.35px;stroke:#2e2e2e;stroke-width:0.35px" fill="#2e2e2e">0.1</text>
<line x1="226.4" y1="188.77777777777777" x2="228" y2="188.77777777777777" stroke="#3a3a3a" stroke-width="1"/>
<line x1="226.4" y1="183.22222222222223" x2="228" y2="183.22222222222223" stroke="#3a3a3a" stroke-width="1"/>
<line x1="226.4" y1="177.66666666666666" x2="228" y2="177.66666666666666" stroke="#3a3a3a" stroke-width="1"/>
<line x1="226.4" y1="172.1111111111111" x2="228" y2="172.1111111111111" stroke="#3a3a3a" stroke-width="1"/>
<line x1="226.4" y1="166.55555555555554" x2="228" y2="166.55555555555554" stroke="#3a3a3a" stroke-width="1"/>
<line x1="225.8" y1="161.0" x2="228" y2="161.0" stroke="#3a3a3a" stroke-width="1"/>
<text x="225.1" y="164.0" text-anchor="end" style="font-family:'Liberation Sans',sans-serif;font-weight:bold;font-size:7.0px;letter-spacing:0.35px;stroke:#2e2e2e;stroke-width:0.35px" fill="#2e2e2e">0.15</text>
<line x1="239.08333333333334" y1="261" x2="239.08333333333334" y2="259.1" stroke="#3a3a3a" stroke-width="1"/>
<line x1="250.16666666666666" y1="261" x2="250.16666666666666" y2="259.1" stroke="#3a3a3a" stroke-width="1"/>
<line x1="261.25" y1="261" x2="261.25" y2="259.1" stroke="#3a3a3a" stroke-width="1"/>
<line x1="272.3333333333333" y1="261" x2="272.3333333333333" y2="259.1" stroke="#3a3a3a" stroke-width="1"/>
<line x1="283.4166666666667" y1="261" x2="283.4166666666667" y2="259.1" stroke="#3a3a3a" stroke-width="1"/>
<line x1="294.5" y1="261" x2="294.5" y2="259.1" stroke="#3a3a3a" stroke-width="1"/>
<line x1="305.58333333333337" y1="261" x2="305.58333333333337" y2="259.1" stroke="#3a3a3a" stroke-width="1"/>
<line x1="316.66666666666663" y1="261" x2="316.66666666666663" y2="259.1" stroke="#3a3a3a" stroke-width="1"/>
<line x1="327.75" y1="261" x2="327.75" y2="259.1" stroke="#3a3a3a" stroke-width="1"/>
<line x1="338.83333333333337" y1="261" x2="338.83333333333337" y2="259.1" stroke="#3a3a3a" stroke-width="1"/>
<line x1="349.91666666666663" y1="261" x2="349.91666666666663" y2="259.1" stroke="#3a3a3a" stroke-width="1"/>
<line x1="361.0" y1="261" x2="361.0" y2="259.1" stroke="#3a3a3a" stroke-width="1"/>
<text x="228.8" y="269.3" text-anchor="middle" style="font-family:'Liberation Sans',sans-serif;font-weight:bold;font-size:7.0px;letter-spacing:0.35px;stroke:#2e2e2e;stroke-width:0.35px" fill="#2e2e2e">0</text>
<text x="262.05" y="269.3" text-anchor="middle" style="font-family:'Liberation Sans',sans-serif;font-weight:bold;font-size:7.0px;letter-spacing:0.35px;stroke:#2e2e2e;stroke-width:0.35px" fill="#2e2e2e">90</text>
<text x="295.3" y="269.3" text-anchor="middle" style="font-family:'Liberation Sans',sans-serif;font-weight:bold;font-size:7.0px;letter-spacing:0.35px;stroke:#2e2e2e;stroke-width:0.35px" fill="#2e2e2e">180</text>
<text x="328.55" y="269.3" text-anchor="middle" style="font-family:'Liberation Sans',sans-serif;font-weight:bold;font-size:7.0px;letter-spacing:0.35px;stroke:#2e2e2e;stroke-width:0.35px" fill="#2e2e2e">270</text>
<text x="361.8" y="269.3" text-anchor="middle" style="font-family:'Liberation Sans',sans-serif;font-weight:bold;font-size:7.0px;letter-spacing:0.35px;stroke:#2e2e2e;stroke-width:0.35px" fill="#2e2e2e">360</text>
<text x="300.6" y="277.7" text-anchor="middle" style="font-family:'Liberation Sans',sans-serif;font-weight:bold;font-size:9.6px;letter-spacing:0.6px;stroke:#2e2e2e;stroke-width:0.35px" fill="#2e2e2e">Azimuth</text>
<path d="M228.00 206.67 L239.08 208.87 L250.17 213.27 L261.25 215.47 L272.33 213.27 L283.42 208.87 L294.50 206.67 L305.58 208.87 L316.67 213.27 L327.75 215.47 L338.83 213.27 L349.92 208.87 L361.00 206.67" fill="none" stroke="#0814f0" stroke-width="1.3" stroke-dasharray="3.5 2.5"/>
<circle cx="228.00" cy="206.67" r="2.9" fill="#0814f0"/>
<circle cx="239.08" cy="208.87" r="2.9" fill="#0814f0"/>
<circle cx="250.17" cy="213.27" r="2.9" fill="#0814f0"/>
<circle cx="261.25" cy="215.47" r="2.9" fill="#0814f0"/>
<circle cx="272.33" cy="213.27" r="2.9" fill="#0814f0"/>
<circle cx="283.42" cy="208.87" r="2.9" fill="#0814f0"/>
<circle cx="294.50" cy="206.67" r="2.9" fill="#0814f0"/>
<circle cx="305.58" cy="208.87" r="2.9" fill="#0814f0"/>
<circle cx="316.67" cy="213.27" r="2.9" fill="#0814f0"/>
<circle cx="327.75" cy="215.47" r="2.9" fill="#0814f0"/>
<circle cx="338.83" cy="213.27" r="2.9" fill="#0814f0"/>
<circle cx="349.92" cy="208.87" r="2.9" fill="#0814f0"/>
<circle cx="361.00" cy="206.67" r="2.9" fill="#0814f0"/>
<path d="M228.00 206.67 L239.08 207.83 L250.17 210.17 L261.25 211.33 L272.33 210.17 L283.42 207.83 L294.50 206.67 L305.58 207.83 L316.67 210.17 L327.75 211.33 L338.83 210.17 L349.92 207.83 L361.00 206.67" fill="none" stroke="#22c41e" stroke-width="1.3" stroke-dasharray="3.5 2.5"/>
<circle cx="228.00" cy="206.67" r="2.9" fill="#22c41e"/>
<circle cx="239.08" cy="207.83" r="2.9" fill="#22c41e"/>
<circle cx="250.17" cy="210.17" r="2.9" fill="#22c41e"/>
<circle cx="261.25" cy="211.33" r="2.9" fill="#22c41e"/>
<circle cx="272.33" cy="210.17" r="2.9" fill="#22c41e"/>
<circle cx="283.42" cy="207.83" r="2.9" fill="#22c41e"/>
<circle cx="294.50" cy="206.67" r="2.9" fill="#22c41e"/>
<circle cx="305.58" cy="207.83" r="2.9" fill="#22c41e"/>
<circle cx="316.67" cy="210.17" r="2.9" fill="#22c41e"/>
<circle cx="327.75" cy="211.33" r="2.9" fill="#22c41e"/>
<circle cx="338.83" cy="210.17" r="2.9" fill="#22c41e"/>
<circle cx="349.92" cy="207.83" r="2.9" fill="#22c41e"/>
<circle cx="361.00" cy="206.67" r="2.9" fill="#22c41e"/>
<path d="M228.00 206.60 L239.08 207.27 L250.17 208.60 L261.25 209.27 L272.33 208.60 L283.42 207.27 L294.50 206.60 L305.58 207.27 L316.67 208.60 L327.75 209.27 L338.83 208.60 L349.92 207.27 L361.00 206.60" fill="none" stroke="#f0100e" stroke-width="1.3" stroke-dasharray="3.5 2.5"/>
<circle cx="228.00" cy="206.60" r="2.9" fill="#f0100e"/>
<circle cx="239.08" cy="207.27" r="2.9" fill="#f0100e"/>
<circle cx="250.17" cy="208.60" r="2.9" fill="#f0100e"/>
<circle cx="261.25" cy="209.27" r="2.9" fill="#f0100e"/>
<circle cx="272.33" cy="208.60" r="2.9" fill="#f0100e"/>
<circle cx="283.42" cy="207.27" r="2.9" fill="#f0100e"/>
<circle cx="294.50" cy="206.60" r="2.9" fill="#f0100e"/>
<circle cx="305.58" cy="207.27" r="2.9" fill="#f0100e"/>
<circle cx="316.67" cy="208.60" r="2.9" fill="#f0100e"/>
<circle cx="327.75" cy="209.27" r="2.9" fill="#f0100e"/>
<circle cx="338.83" cy="208.60" r="2.9" fill="#f0100e"/>
<circle cx="349.92" cy="207.27" r="2.9" fill="#f0100e"/>
<circle cx="361.00" cy="206.60" r="2.9" fill="#f0100e"/>
<path d="M228.00 206.47 L239.08 206.85 L250.17 207.62 L261.25 208.00 L272.33 207.62 L283.42 206.85 L294.50 206.47 L305.58 206.85 L316.67 207.62 L327.75 208.00 L338.83 207.62 L349.92 206.85 L361.00 206.47" fill="none" stroke="#e8701e" stroke-width="1.3" stroke-dasharray="3.5 2.5"/>
<circle cx="228.00" cy="206.47" r="2.9" fill="#e8701e"/>
<circle cx="239.08" cy="206.85" r="2.9" fill="#e8701e"/>
<circle cx="250.17" cy="207.62" r="2.9" fill="#e8701e"/>
<circle cx="261.25" cy="208.00" r="2.9" fill="#e8701e"/>
<circle cx="272.33" cy="207.62" r="2.9" fill="#e8701e"/>
<circle cx="283.42" cy="206.85" r="2.9" fill="#e8701e"/>
<circle cx="294.50" cy="206.47" r="2.9" fill="#e8701e"/>
<circle cx="305.58" cy="206.85" r="2.9" fill="#e8701e"/>
<circle cx="316.67" cy="207.62" r="2.9" fill="#e8701e"/>
<circle cx="327.75" cy="208.00" r="2.9" fill="#e8701e"/>
<circle cx="338.83" cy="207.62" r="2.9" fill="#e8701e"/>
<circle cx="349.92" cy="206.85" r="2.9" fill="#e8701e"/>
<circle cx="361.00" cy="206.47" r="2.9" fill="#e8701e"/>
<path d="M227 301.0 L227 283 L362 283 L362 301.0" fill="none" stroke="#6e6e6e" stroke-width="1.2"/>
<line x1="243.0" y1="288.0" x2="265.0" y2="288.0" stroke="#0814f0" stroke-width="1.0" stroke-dasharray="3.4 2.6 9.4 2.6 4"/>
<circle cx="253.9" cy="288.0" r="2.0" fill="#0814f0"/>
<text x="269.5" y="290.7" style="font-family:'Liberation Sans',sans-serif;font-weight:bold;font-size:7.6px;letter-spacing:0.45px;stroke:#2e2e2e;stroke-width:0.2px" fill="#2e2e2e">200%</text>
<line x1="310.5" y1="288.0" x2="332.5" y2="288.0" stroke="#22c41e" stroke-width="1.0" stroke-dasharray="3.4 2.6 9.4 2.6 4"/>
<circle cx="321.4" cy="288.0" r="2.0" fill="#22c41e"/>
<text x="337.0" y="290.7" style="font-family:'Liberation Sans',sans-serif;font-weight:bold;font-size:7.6px;letter-spacing:0.45px;stroke:#2e2e2e;stroke-width:0.2px" fill="#2e2e2e">100%</text>
<line x1="243.0" y1="296.7" x2="265.0" y2="296.7" stroke="#f0100e" stroke-width="1.0" stroke-dasharray="3.4 2.6 9.4 2.6 4"/>
<circle cx="253.9" cy="296.7" r="2.0" fill="#f0100e"/>
<text x="269.5" y="299.4" style="font-family:'Liberation Sans',sans-serif;font-weight:bold;font-size:7.6px;letter-spacing:0.45px;stroke:#2e2e2e;stroke-width:0.2px" fill="#2e2e2e">50%</text>
<line x1="310.5" y1="296.7" x2="332.5" y2="296.7" stroke="#e8701e" stroke-width="1.0" stroke-dasharray="3.4 2.6 9.4 2.6 4"/>
<circle cx="321.4" cy="296.7" r="2.0" fill="#e8701e"/>
<text x="337.0" y="299.4" style="font-family:'Liberation Sans',sans-serif;font-weight:bold;font-size:7.6px;letter-spacing:0.45px;stroke:#2e2e2e;stroke-width:0.2px" fill="#2e2e2e">25%</text>
<text transform="translate(475.2,165.5) scale(1.0,1)" text-anchor="middle" style="font-family:'Liberation Sans',sans-serif;font-weight:bold;font-size:9.5px;letter-spacing:0.42px;stroke:#2e2e2e;stroke-width:0.22px" fill="#2e2e2e">Incident angle of 25°</text>
<path d="M400.7 161 L400.7 261 L534.2 261" fill="none" stroke="#333" stroke-width="1.35"/>
<line x1="398.5" y1="261.0" x2="400.7" y2="261.0" stroke="#3a3a3a" stroke-width="1"/>
<text x="397.8" y="264.0" text-anchor="end" style="font-family:'Liberation Sans',sans-serif;font-weight:bold;font-size:7.0px;letter-spacing:0.35px;stroke:#2e2e2e;stroke-width:0.35px" fill="#2e2e2e">0</text>
<line x1="399.09999999999997" y1="255.44444444444446" x2="400.7" y2="255.44444444444446" stroke="#3a3a3a" stroke-width="1"/>
<line x1="399.09999999999997" y1="249.88888888888889" x2="400.7" y2="249.88888888888889" stroke="#3a3a3a" stroke-width="1"/>
<line x1="399.09999999999997" y1="244.33333333333334" x2="400.7" y2="244.33333333333334" stroke="#3a3a3a" stroke-width="1"/>
<line x1="399.09999999999997" y1="238.77777777777777" x2="400.7" y2="238.77777777777777" stroke="#3a3a3a" stroke-width="1"/>
<line x1="399.09999999999997" y1="233.22222222222223" x2="400.7" y2="233.22222222222223" stroke="#3a3a3a" stroke-width="1"/>
<line x1="398.5" y1="227.66666666666666" x2="400.7" y2="227.66666666666666" stroke="#3a3a3a" stroke-width="1"/>
<text x="397.8" y="230.66666666666666" text-anchor="end" style="font-family:'Liberation Sans',sans-serif;font-weight:bold;font-size:7.0px;letter-spacing:0.35px;stroke:#2e2e2e;stroke-width:0.35px" fill="#2e2e2e">0.05</text>
<line x1="399.09999999999997" y1="222.11111111111111" x2="400.7" y2="222.11111111111111" stroke="#3a3a3a" stroke-width="1"/>
<line x1="399.09999999999997" y1="216.55555555555554" x2="400.7" y2="216.55555555555554" stroke="#3a3a3a" stroke-width="1"/>
<line x1="399.09999999999997" y1="211.0" x2="400.7" y2="211.0" stroke="#3a3a3a" stroke-width="1"/>
<line x1="399.09999999999997" y1="205.44444444444443" x2="400.7" y2="205.44444444444443" stroke="#3a3a3a" stroke-width="1"/>
<line x1="399.09999999999997" y1="199.88888888888889" x2="400.7" y2="199.88888888888889" stroke="#3a3a3a" stroke-width="1"/>
<line x1="398.5" y1="194.33333333333331" x2="400.7" y2="194.33333333333331" stroke="#3a3a3a" stroke-width="1"/>
<text x="397.8" y="197.33333333333331" text-anchor="end" style="font-family:'Liberation Sans',sans-serif;font-weight:bold;font-size:7.0px;letter-spacing:0.35px;stroke:#2e2e2e;stroke-width:0.35px" fill="#2e2e2e">0.1</text>
<line x1="399.09999999999997" y1="188.77777777777777" x2="400.7" y2="188.77777777777777" stroke="#3a3a3a" stroke-width="1"/>
<line x1="399.09999999999997" y1="183.22222222222223" x2="400.7" y2="183.22222222222223" stroke="#3a3a3a" stroke-width="1"/>
<line x1="399.09999999999997" y1="177.66666666666666" x2="400.7" y2="177.66666666666666" stroke="#3a3a3a" stroke-width="1"/>
<line x1="399.09999999999997" y1="172.1111111111111" x2="400.7" y2="172.1111111111111" stroke="#3a3a3a" stroke-width="1"/>
<line x1="399.09999999999997" y1="166.55555555555554" x2="400.7" y2="166.55555555555554" stroke="#3a3a3a" stroke-width="1"/>
<line x1="398.5" y1="161.0" x2="400.7" y2="161.0" stroke="#3a3a3a" stroke-width="1"/>
<text x="397.8" y="164.0" text-anchor="end" style="font-family:'Liberation Sans',sans-serif;font-weight:bold;font-size:7.0px;letter-spacing:0.35px;stroke:#2e2e2e;stroke-width:0.35px" fill="#2e2e2e">0.15</text>
<line x1="411.7833333333333" y1="261" x2="411.7833333333333" y2="259.1" stroke="#3a3a3a" stroke-width="1"/>
<line x1="422.8666666666667" y1="261" x2="422.8666666666667" y2="259.1" stroke="#3a3a3a" stroke-width="1"/>
<line x1="433.95" y1="261" x2="433.95" y2="259.1" stroke="#3a3a3a" stroke-width="1"/>
<line x1="445.0333333333333" y1="261" x2="445.0333333333333" y2="259.1" stroke="#3a3a3a" stroke-width="1"/>
<line x1="456.1166666666667" y1="261" x2="456.1166666666667" y2="259.1" stroke="#3a3a3a" stroke-width="1"/>
<line x1="467.2" y1="261" x2="467.2" y2="259.1" stroke="#3a3a3a" stroke-width="1"/>
<line x1="478.2833333333333" y1="261" x2="478.2833333333333" y2="259.1" stroke="#3a3a3a" stroke-width="1"/>
<line x1="489.3666666666667" y1="261" x2="489.3666666666667" y2="259.1" stroke="#3a3a3a" stroke-width="1"/>
<line x1="500.45" y1="261" x2="500.45" y2="259.1" stroke="#3a3a3a" stroke-width="1"/>
<line x1="511.5333333333333" y1="261" x2="511.5333333333333" y2="259.1" stroke="#3a3a3a" stroke-width="1"/>
<line x1="522.6166666666667" y1="261" x2="522.6166666666667" y2="259.1" stroke="#3a3a3a" stroke-width="1"/>
<line x1="533.7" y1="261" x2="533.7" y2="259.1" stroke="#3a3a3a" stroke-width="1"/>
<text x="401.5" y="269.3" text-anchor="middle" style="font-family:'Liberation Sans',sans-serif;font-weight:bold;font-size:7.0px;letter-spacing:0.35px;stroke:#2e2e2e;stroke-width:0.35px" fill="#2e2e2e">0</text>
<text x="434.75" y="269.3" text-anchor="middle" style="font-family:'Liberation Sans',sans-serif;font-weight:bold;font-size:7.0px;letter-spacing:0.35px;stroke:#2e2e2e;stroke-width:0.35px" fill="#2e2e2e">90</text>
<text x="468.0" y="269.3" text-anchor="middle" style="font-family:'Liberation Sans',sans-serif;font-weight:bold;font-size:7.0px;letter-spacing:0.35px;stroke:#2e2e2e;stroke-width:0.35px" fill="#2e2e2e">180</text>
<text x="501.25" y="269.3" text-anchor="middle" style="font-family:'Liberation Sans',sans-serif;font-weight:bold;font-size:7.0px;letter-spacing:0.35px;stroke:#2e2e2e;stroke-width:0.35px" fill="#2e2e2e">270</text>
<text x="534.5" y="269.3" text-anchor="middle" style="font-family:'Liberation Sans',sans-serif;font-weight:bold;font-size:7.0px;letter-spacing:0.35px;stroke:#2e2e2e;stroke-width:0.35px" fill="#2e2e2e">360</text>
<text x="469.29999999999995" y="277.7" text-anchor="middle" style="font-family:'Liberation Sans',sans-serif;font-weight:bold;font-size:9.6px;letter-spacing:0.6px;stroke:#2e2e2e;stroke-width:0.35px" fill="#2e2e2e">Azimuth</text>
<path d="M400.70 241.27 L411.78 246.12 L422.87 255.82 L433.95 260.67 L445.03 255.82 L456.12 246.12 L467.20 241.27 L478.28 246.12 L489.37 255.82 L500.45 260.67 L511.53 255.82 L522.62 246.12 L533.70 241.27" fill="none" stroke="#0814f0" stroke-width="1.3" stroke-dasharray="3.5 2.5"/>
<circle cx="400.70" cy="241.27" r="2.9" fill="#0814f0"/>
<circle cx="411.78" cy="246.12" r="2.9" fill="#0814f0"/>
<circle cx="422.87" cy="255.82" r="2.9" fill="#0814f0"/>
<circle cx="433.95" cy="260.67" r="2.9" fill="#0814f0"/>
<circle cx="445.03" cy="255.82" r="2.9" fill="#0814f0"/>
<circle cx="456.12" cy="246.12" r="2.9" fill="#0814f0"/>
<circle cx="467.20" cy="241.27" r="2.9" fill="#0814f0"/>
<circle cx="478.28" cy="246.12" r="2.9" fill="#0814f0"/>
<circle cx="489.37" cy="255.82" r="2.9" fill="#0814f0"/>
<circle cx="500.45" cy="260.67" r="2.9" fill="#0814f0"/>
<circle cx="511.53" cy="255.82" r="2.9" fill="#0814f0"/>
<circle cx="522.62" cy="246.12" r="2.9" fill="#0814f0"/>
<circle cx="533.70" cy="241.27" r="2.9" fill="#0814f0"/>
<path d="M400.70 240.33 L411.78 242.75 L422.87 247.58 L433.95 250.00 L445.03 247.58 L456.12 242.75 L467.20 240.33 L478.28 242.75 L489.37 247.58 L500.45 250.00 L511.53 247.58 L522.62 242.75 L533.70 240.33" fill="none" stroke="#22c41e" stroke-width="1.3" stroke-dasharray="3.5 2.5"/>
<circle cx="400.70" cy="240.33" r="2.9" fill="#22c41e"/>
<circle cx="411.78" cy="242.75" r="2.9" fill="#22c41e"/>
<circle cx="422.87" cy="247.58" r="2.9" fill="#22c41e"/>
<circle cx="433.95" cy="250.00" r="2.9" fill="#22c41e"/>
<circle cx="445.03" cy="247.58" r="2.9" fill="#22c41e"/>
<circle cx="456.12" cy="242.75" r="2.9" fill="#22c41e"/>
<circle cx="467.20" cy="240.33" r="2.9" fill="#22c41e"/>
<circle cx="478.28" cy="242.75" r="2.9" fill="#22c41e"/>
<circle cx="489.37" cy="247.58" r="2.9" fill="#22c41e"/>
<circle cx="500.45" cy="250.00" r="2.9" fill="#22c41e"/>
<circle cx="511.53" cy="247.58" r="2.9" fill="#22c41e"/>
<circle cx="522.62" cy="242.75" r="2.9" fill="#22c41e"/>
<circle cx="533.70" cy="240.33" r="2.9" fill="#22c41e"/>
<path d="M400.70 239.80 L411.78 241.07 L422.87 243.60 L433.95 244.87 L445.03 243.60 L456.12 241.07 L467.20 239.80 L478.28 241.07 L489.37 243.60 L500.45 244.87 L511.53 243.60 L522.62 241.07 L533.70 239.80" fill="none" stroke="#f0100e" stroke-width="1.3" stroke-dasharray="3.5 2.5"/>
<circle cx="400.70" cy="239.80" r="2.9" fill="#f0100e"/>
<circle cx="411.78" cy="241.07" r="2.9" fill="#f0100e"/>
<circle cx="422.87" cy="243.60" r="2.9" fill="#f0100e"/>
<circle cx="433.95" cy="244.87" r="2.9" fill="#f0100e"/>
<circle cx="445.03" cy="243.60" r="2.9" fill="#f0100e"/>
<circle cx="456.12" cy="241.07" r="2.9" fill="#f0100e"/>
<circle cx="467.20" cy="239.80" r="2.9" fill="#f0100e"/>
<circle cx="478.28" cy="241.07" r="2.9" fill="#f0100e"/>
<circle cx="489.37" cy="243.60" r="2.9" fill="#f0100e"/>
<circle cx="500.45" cy="244.87" r="2.9" fill="#f0100e"/>
<circle cx="511.53" cy="243.60" r="2.9" fill="#f0100e"/>
<circle cx="522.62" cy="241.07" r="2.9" fill="#f0100e"/>
<circle cx="533.70" cy="239.80" r="2.9" fill="#f0100e"/>
<path d="M400.70 239.40 L411.78 240.07 L422.87 241.40 L433.95 242.07 L445.03 241.40 L456.12 240.07 L467.20 239.40 L478.28 240.07 L489.37 241.40 L500.45 242.07 L511.53 241.40 L522.62 240.07 L533.70 239.40" fill="none" stroke="#e8701e" stroke-width="1.3" stroke-dasharray="3.5 2.5"/>
<circle cx="400.70" cy="239.40" r="2.9" fill="#e8701e"/>
<circle cx="411.78" cy="240.07" r="2.9" fill="#e8701e"/>
<circle cx="422.87" cy="241.40" r="2.9" fill="#e8701e"/>
<circle cx="433.95" cy="242.07" r="2.9" fill="#e8701e"/>
<circle cx="445.03" cy="241.40" r="2.9" fill="#e8701e"/>
<circle cx="456.12" cy="240.07" r="2.9" fill="#e8701e"/>
<circle cx="467.20" cy="239.40" r="2.9" fill="#e8701e"/>
<circle cx="478.28" cy="240.07" r="2.9" fill="#e8701e"/>
<circle cx="489.37" cy="241.40" r="2.9" fill="#e8701e"/>
<circle cx="500.45" cy="242.07" r="2.9" fill="#e8701e"/>
<circle cx="511.53" cy="241.40" r="2.9" fill="#e8701e"/>
<circle cx="522.62" cy="240.07" r="2.9" fill="#e8701e"/>
<circle cx="533.70" cy="239.40" r="2.9" fill="#e8701e"/>
<path d="M399.7 301.0 L399.7 283 L534.7 283 L534.7 301.0" fill="none" stroke="#6e6e6e" stroke-width="1.2"/>
<line x1="415.7" y1="288.0" x2="437.7" y2="288.0" stroke="#0814f0" stroke-width="1.0" stroke-dasharray="3.4 2.6 9.4 2.6 4"/>
<circle cx="426.59999999999997" cy="288.0" r="2.0" fill="#0814f0"/>
<text x="442.2" y="290.7" style="font-family:'Liberation Sans',sans-serif;font-weight:bold;font-size:7.6px;letter-spacing:0.45px;stroke:#2e2e2e;stroke-width:0.2px" fill="#2e2e2e">200%</text>
<line x1="483.2" y1="288.0" x2="505.2" y2="288.0" stroke="#22c41e" stroke-width="1.0" stroke-dasharray="3.4 2.6 9.4 2.6 4"/>
<circle cx="494.09999999999997" cy="288.0" r="2.0" fill="#22c41e"/>
<text x="509.7" y="290.7" style="font-family:'Liberation Sans',sans-serif;font-weight:bold;font-size:7.6px;letter-spacing:0.45px;stroke:#2e2e2e;stroke-width:0.2px" fill="#2e2e2e">100%</text>
<line x1="415.7" y1="296.7" x2="437.7" y2="296.7" stroke="#f0100e" stroke-width="1.0" stroke-dasharray="3.4 2.6 9.4 2.6 4"/>
<circle cx="426.59999999999997" cy="296.7" r="2.0" fill="#f0100e"/>
<text x="442.2" y="299.4" style="font-family:'Liberation Sans',sans-serif;font-weight:bold;font-size:7.6px;letter-spacing:0.45px;stroke:#2e2e2e;stroke-width:0.2px" fill="#2e2e2e">50%</text>
<line x1="483.2" y1="296.7" x2="505.2" y2="296.7" stroke="#e8701e" stroke-width="1.0" stroke-dasharray="3.4 2.6 9.4 2.6 4"/>
<circle cx="494.09999999999997" cy="296.7" r="2.0" fill="#e8701e"/>
<text x="509.7" y="299.4" style="font-family:'Liberation Sans',sans-serif;font-weight:bold;font-size:7.6px;letter-spacing:0.45px;stroke:#2e2e2e;stroke-width:0.2px" fill="#2e2e2e">25%</text>
<text transform="translate(129.3,317.6) scale(1.0,1)" text-anchor="middle" style="font-family:'Liberation Sans',sans-serif;font-weight:bold;font-size:9.5px;letter-spacing:0.42px;stroke:#2e2e2e;stroke-width:0.22px" fill="#2e2e2e">Incident angle of 5°</text>
<path d="M54 311.5 L54 411.5 L187.5 411.5" fill="none" stroke="#333" stroke-width="1.35"/>
<line x1="51.8" y1="411.5" x2="54" y2="411.5" stroke="#3a3a3a" stroke-width="1"/>
<text x="51.1" y="414.5" text-anchor="end" style="font-family:'Liberation Sans',sans-serif;font-weight:bold;font-size:7.0px;letter-spacing:0.35px;stroke:#2e2e2e;stroke-width:0.35px" fill="#2e2e2e">0.05</text>
<line x1="52.4" y1="403.1666666666667" x2="54" y2="403.1666666666667" stroke="#3a3a3a" stroke-width="1"/>
<line x1="51.8" y1="394.8333333333333" x2="54" y2="394.8333333333333" stroke="#3a3a3a" stroke-width="1"/>
<text x="51.1" y="397.8333333333333" text-anchor="end" style="font-family:'Liberation Sans',sans-serif;font-weight:bold;font-size:7.0px;letter-spacing:0.35px;stroke:#2e2e2e;stroke-width:0.35px" fill="#2e2e2e">0.07</text>
<line x1="52.4" y1="386.5" x2="54" y2="386.5" stroke="#3a3a3a" stroke-width="1"/>
<line x1="51.8" y1="378.1666666666667" x2="54" y2="378.1666666666667" stroke="#3a3a3a" stroke-width="1"/>
<text x="51.1" y="381.1666666666667" text-anchor="end" style="font-family:'Liberation Sans',sans-serif;font-weight:bold;font-size:7.0px;letter-spacing:0.35px;stroke:#2e2e2e;stroke-width:0.35px" fill="#2e2e2e">0.09</text>
<line x1="52.4" y1="369.8333333333333" x2="54" y2="369.8333333333333" stroke="#3a3a3a" stroke-width="1"/>
<line x1="51.8" y1="361.5" x2="54" y2="361.5" stroke="#3a3a3a" stroke-width="1"/>
<text x="51.1" y="364.5" text-anchor="end" style="font-family:'Liberation Sans',sans-serif;font-weight:bold;font-size:7.0px;letter-spacing:0.35px;stroke:#2e2e2e;stroke-width:0.35px" fill="#2e2e2e">0.11</text>
<line x1="52.4" y1="353.1666666666667" x2="54" y2="353.1666666666667" stroke="#3a3a3a" stroke-width="1"/>
<line x1="51.8" y1="344.83333333333337" x2="54" y2="344.83333333333337" stroke="#3a3a3a" stroke-width="1"/>
<text x="51.1" y="347.83333333333337" text-anchor="end" style="font-family:'Liberation Sans',sans-serif;font-weight:bold;font-size:7.0px;letter-spacing:0.35px;stroke:#2e2e2e;stroke-width:0.35px" fill="#2e2e2e">0.13</text>
<line x1="52.4" y1="336.5" x2="54" y2="336.5" stroke="#3a3a3a" stroke-width="1"/>
<line x1="51.8" y1="328.1666666666667" x2="54" y2="328.1666666666667" stroke="#3a3a3a" stroke-width="1"/>
<text x="51.1" y="331.1666666666667" text-anchor="end" style="font-family:'Liberation Sans',sans-serif;font-weight:bold;font-size:7.0px;letter-spacing:0.35px;stroke:#2e2e2e;stroke-width:0.35px" fill="#2e2e2e">0.15</text>
<line x1="52.4" y1="319.83333333333337" x2="54" y2="319.83333333333337" stroke="#3a3a3a" stroke-width="1"/>
<line x1="51.8" y1="311.5" x2="54" y2="311.5" stroke="#3a3a3a" stroke-width="1"/>
<text x="51.1" y="314.5" text-anchor="end" style="font-family:'Liberation Sans',sans-serif;font-weight:bold;font-size:7.0px;letter-spacing:0.35px;stroke:#2e2e2e;stroke-width:0.35px" fill="#2e2e2e">0.17</text>
<line x1="65.08333333333333" y1="411.5" x2="65.08333333333333" y2="409.6" stroke="#3a3a3a" stroke-width="1"/>
<line x1="76.16666666666666" y1="411.5" x2="76.16666666666666" y2="409.6" stroke="#3a3a3a" stroke-width="1"/>
<line x1="87.25" y1="411.5" x2="87.25" y2="409.6" stroke="#3a3a3a" stroke-width="1"/>
<line x1="98.33333333333333" y1="411.5" x2="98.33333333333333" y2="409.6" stroke="#3a3a3a" stroke-width="1"/>
<line x1="109.41666666666667" y1="411.5" x2="109.41666666666667" y2="409.6" stroke="#3a3a3a" stroke-width="1"/>
<line x1="120.5" y1="411.5" x2="120.5" y2="409.6" stroke="#3a3a3a" stroke-width="1"/>
<line x1="131.58333333333334" y1="411.5" x2="131.58333333333334" y2="409.6" stroke="#3a3a3a" stroke-width="1"/>
<line x1="142.66666666666666" y1="411.5" x2="142.66666666666666" y2="409.6" stroke="#3a3a3a" stroke-width="1"/>
<line x1="153.75" y1="411.5" x2="153.75" y2="409.6" stroke="#3a3a3a" stroke-width="1"/>
<line x1="164.83333333333334" y1="411.5" x2="164.83333333333334" y2="409.6" stroke="#3a3a3a" stroke-width="1"/>
<line x1="175.91666666666666" y1="411.5" x2="175.91666666666666" y2="409.6" stroke="#3a3a3a" stroke-width="1"/>
<line x1="187.0" y1="411.5" x2="187.0" y2="409.6" stroke="#3a3a3a" stroke-width="1"/>
<text x="54.8" y="419.8" text-anchor="middle" style="font-family:'Liberation Sans',sans-serif;font-weight:bold;font-size:7.0px;letter-spacing:0.35px;stroke:#2e2e2e;stroke-width:0.35px" fill="#2e2e2e">0</text>
<text x="88.05" y="419.8" text-anchor="middle" style="font-family:'Liberation Sans',sans-serif;font-weight:bold;font-size:7.0px;letter-spacing:0.35px;stroke:#2e2e2e;stroke-width:0.35px" fill="#2e2e2e">90</text>
<text x="121.3" y="419.8" text-anchor="middle" style="font-family:'Liberation Sans',sans-serif;font-weight:bold;font-size:7.0px;letter-spacing:0.35px;stroke:#2e2e2e;stroke-width:0.35px" fill="#2e2e2e">180</text>
<text x="154.55" y="419.8" text-anchor="middle" style="font-family:'Liberation Sans',sans-serif;font-weight:bold;font-size:7.0px;letter-spacing:0.35px;stroke:#2e2e2e;stroke-width:0.35px" fill="#2e2e2e">270</text>
<text x="187.8" y="419.8" text-anchor="middle" style="font-family:'Liberation Sans',sans-serif;font-weight:bold;font-size:7.0px;letter-spacing:0.35px;stroke:#2e2e2e;stroke-width:0.35px" fill="#2e2e2e">360</text>
<text x="123.9" y="428.2" text-anchor="middle" style="font-family:'Liberation Sans',sans-serif;font-weight:bold;font-size:9.6px;letter-spacing:0.6px;stroke:#2e2e2e;stroke-width:0.35px" fill="#2e2e2e">Azimuth</text>
<text transform="translate(28.2,372.4) rotate(90)" text-anchor="middle" style="font-family:'Liberation Sans',sans-serif;font-weight:bold;font-size:9.0px;letter-spacing:0.65px;stroke:#2e2e2e;stroke-width:0.35px" fill="#2e2e2e">Reflection coefficient</text>
<path d="M54.00 331.08 L65.08 331.38 L76.17 331.96 L87.25 332.25 L98.33 331.96 L109.42 331.38 L120.50 331.08 L131.58 331.38 L142.67 331.96 L153.75 332.25 L164.83 331.96 L175.92 331.38 L187.00 331.08" fill="none" stroke="#0814f0" stroke-width="1.3" stroke-dasharray="3.5 2.5"/>
<circle cx="54.00" cy="331.08" r="2.9" fill="#0814f0"/>
<circle cx="65.08" cy="331.38" r="2.9" fill="#0814f0"/>
<circle cx="76.17" cy="331.96" r="2.9" fill="#0814f0"/>
<circle cx="87.25" cy="332.25" r="2.9" fill="#0814f0"/>
<circle cx="98.33" cy="331.96" r="2.9" fill="#0814f0"/>
<circle cx="109.42" cy="331.38" r="2.9" fill="#0814f0"/>
<circle cx="120.50" cy="331.08" r="2.9" fill="#0814f0"/>
<circle cx="131.58" cy="331.38" r="2.9" fill="#0814f0"/>
<circle cx="142.67" cy="331.96" r="2.9" fill="#0814f0"/>
<circle cx="153.75" cy="332.25" r="2.9" fill="#0814f0"/>
<circle cx="164.83" cy="331.96" r="2.9" fill="#0814f0"/>
<circle cx="175.92" cy="331.38" r="2.9" fill="#0814f0"/>
<circle cx="187.00" cy="331.08" r="2.9" fill="#0814f0"/>
<path d="M54.00 331.17 L65.08 331.29 L76.17 331.54 L87.25 331.67 L98.33 331.54 L109.42 331.29 L120.50 331.17 L131.58 331.29 L142.67 331.54 L153.75 331.67 L164.83 331.54 L175.92 331.29 L187.00 331.17" fill="none" stroke="#22c41e" stroke-width="1.3" stroke-dasharray="3.5 2.5"/>
<circle cx="54.00" cy="331.17" r="2.9" fill="#22c41e"/>
<circle cx="65.08" cy="331.29" r="2.9" fill="#22c41e"/>
<circle cx="76.17" cy="331.54" r="2.9" fill="#22c41e"/>
<circle cx="87.25" cy="331.67" r="2.9" fill="#22c41e"/>
<circle cx="98.33" cy="331.54" r="2.9" fill="#22c41e"/>
<circle cx="109.42" cy="331.29" r="2.9" fill="#22c41e"/>
<circle cx="120.50" cy="331.17" r="2.9" fill="#22c41e"/>
<circle cx="131.58" cy="331.29" r="2.9" fill="#22c41e"/>
<circle cx="142.67" cy="331.54" r="2.9" fill="#22c41e"/>
<circle cx="153.75" cy="331.67" r="2.9" fill="#22c41e"/>
<circle cx="164.83" cy="331.54" r="2.9" fill="#22c41e"/>
<circle cx="175.92" cy="331.29" r="2.9" fill="#22c41e"/>
<circle cx="187.00" cy="331.17" r="2.9" fill="#22c41e"/>
<path d="M54.00 331.08 L65.08 331.15 L76.17 331.27 L87.25 331.33 L98.33 331.27 L109.42 331.15 L120.50 331.08 L131.58 331.15 L142.67 331.27 L153.75 331.33 L164.83 331.27 L175.92 331.15 L187.00 331.08" fill="none" stroke="#f0100e" stroke-width="1.3" stroke-dasharray="3.5 2.5"/>
<circle cx="54.00" cy="331.08" r="2.9" fill="#f0100e"/>
<circle cx="65.08" cy="331.15" r="2.9" fill="#f0100e"/>
<circle cx="76.17" cy="331.27" r="2.9" fill="#f0100e"/>
<circle cx="87.25" cy="331.33" r="2.9" fill="#f0100e"/>
<circle cx="98.33" cy="331.27" r="2.9" fill="#f0100e"/>
<circle cx="109.42" cy="331.15" r="2.9" fill="#f0100e"/>
<circle cx="120.50" cy="331.08" r="2.9" fill="#f0100e"/>
<circle cx="131.58" cy="331.15" r="2.9" fill="#f0100e"/>
<circle cx="142.67" cy="331.27" r="2.9" fill="#f0100e"/>
<circle cx="153.75" cy="331.33" r="2.9" fill="#f0100e"/>
<circle cx="164.83" cy="331.27" r="2.9" fill="#f0100e"/>
<circle cx="175.92" cy="331.15" r="2.9" fill="#f0100e"/>
<circle cx="187.00" cy="331.08" r="2.9" fill="#f0100e"/>
<path d="M54.00 331.00 L65.08 331.03 L76.17 331.09 L87.25 331.12 L98.33 331.09 L109.42 331.03 L120.50 331.00 L131.58 331.03 L142.67 331.09 L153.75 331.12 L164.83 331.09 L175.92 331.03 L187.00 331.00" fill="none" stroke="#e8701e" stroke-width="1.3" stroke-dasharray="3.5 2.5"/>
<circle cx="54.00" cy="331.00" r="2.9" fill="#e8701e"/>
<circle cx="65.08" cy="331.03" r="2.9" fill="#e8701e"/>
<circle cx="76.17" cy="331.09" r="2.9" fill="#e8701e"/>
<circle cx="87.25" cy="331.12" r="2.9" fill="#e8701e"/>
<circle cx="98.33" cy="331.09" r="2.9" fill="#e8701e"/>
<circle cx="109.42" cy="331.03" r="2.9" fill="#e8701e"/>
<circle cx="120.50" cy="331.00" r="2.9" fill="#e8701e"/>
<circle cx="131.58" cy="331.03" r="2.9" fill="#e8701e"/>
<circle cx="142.67" cy="331.09" r="2.9" fill="#e8701e"/>
<circle cx="153.75" cy="331.12" r="2.9" fill="#e8701e"/>
<circle cx="164.83" cy="331.09" r="2.9" fill="#e8701e"/>
<circle cx="175.92" cy="331.03" r="2.9" fill="#e8701e"/>
<circle cx="187.00" cy="331.00" r="2.9" fill="#e8701e"/>
<path d="M53 451.5 L53 433.5 L188 433.5 L188 451.5" fill="none" stroke="#6e6e6e" stroke-width="1.2"/>
<line x1="69.0" y1="438.5" x2="91.0" y2="438.5" stroke="#0814f0" stroke-width="1.0" stroke-dasharray="3.4 2.6 9.4 2.6 4"/>
<circle cx="79.9" cy="438.5" r="2.0" fill="#0814f0"/>
<text x="95.5" y="441.2" style="font-family:'Liberation Sans',sans-serif;font-weight:bold;font-size:7.6px;letter-spacing:0.45px;stroke:#2e2e2e;stroke-width:0.2px" fill="#2e2e2e">200%</text>
<line x1="136.5" y1="438.5" x2="158.5" y2="438.5" stroke="#22c41e" stroke-width="1.0" stroke-dasharray="3.4 2.6 9.4 2.6 4"/>
<circle cx="147.4" cy="438.5" r="2.0" fill="#22c41e"/>
<text x="163.0" y="441.2" style="font-family:'Liberation Sans',sans-serif;font-weight:bold;font-size:7.6px;letter-spacing:0.45px;stroke:#2e2e2e;stroke-width:0.2px" fill="#2e2e2e">100%</text>
<line x1="69.0" y1="447.2" x2="91.0" y2="447.2" stroke="#f0100e" stroke-width="1.0" stroke-dasharray="3.4 2.6 9.4 2.6 4"/>
<circle cx="79.9" cy="447.2" r="2.0" fill="#f0100e"/>
<text x="95.5" y="449.9" style="font-family:'Liberation Sans',sans-serif;font-weight:bold;font-size:7.6px;letter-spacing:0.45px;stroke:#2e2e2e;stroke-width:0.2px" fill="#2e2e2e">50%</text>
<line x1="136.5" y1="447.2" x2="158.5" y2="447.2" stroke="#e8701e" stroke-width="1.0" stroke-dasharray="3.4 2.6 9.4 2.6 4"/>
<circle cx="147.4" cy="447.2" r="2.0" fill="#e8701e"/>
<text x="163.0" y="449.9" style="font-family:'Liberation Sans',sans-serif;font-weight:bold;font-size:7.6px;letter-spacing:0.45px;stroke:#2e2e2e;stroke-width:0.2px" fill="#2e2e2e">25%</text>
<text transform="translate(302.6,317.6) scale(1.0,1)" text-anchor="middle" style="font-family:'Liberation Sans',sans-serif;font-weight:bold;font-size:9.5px;letter-spacing:0.42px;stroke:#2e2e2e;stroke-width:0.22px" fill="#2e2e2e">Incident angle of 15°</text>
<path d="M228 311.5 L228 411.5 L361.5 411.5" fill="none" stroke="#333" stroke-width="1.35"/>
<line x1="225.8" y1="411.5" x2="228" y2="411.5" stroke="#3a3a3a" stroke-width="1"/>
<text x="225.1" y="414.5" text-anchor="end" style="font-family:'Liberation Sans',sans-serif;font-weight:bold;font-size:7.0px;letter-spacing:0.35px;stroke:#2e2e2e;stroke-width:0.35px" fill="#2e2e2e">0.05</text>
<line x1="226.4" y1="404.8333333333333" x2="228" y2="404.8333333333333" stroke="#3a3a3a" stroke-width="1"/>
<line x1="226.4" y1="398.1666666666667" x2="228" y2="398.1666666666667" stroke="#3a3a3a" stroke-width="1"/>
<line x1="226.4" y1="391.5" x2="228" y2="391.5" stroke="#3a3a3a" stroke-width="1"/>
<line x1="226.4" y1="384.8333333333333" x2="228" y2="384.8333333333333" stroke="#3a3a3a" stroke-width="1"/>
<line x1="225.8" y1="378.1666666666667" x2="228" y2="378.1666666666667" stroke="#3a3a3a" stroke-width="1"/>
<text x="225.1" y="381.1666666666667" text-anchor="end" style="font-family:'Liberation Sans',sans-serif;font-weight:bold;font-size:7.0px;letter-spacing:0.35px;stroke:#2e2e2e;stroke-width:0.35px" fill="#2e2e2e">0.1</text>
<line x1="226.4" y1="371.5" x2="228" y2="371.5" stroke="#3a3a3a" stroke-width="1"/>
<line x1="226.4" y1="364.83333333333337" x2="228" y2="364.83333333333337" stroke="#3a3a3a" stroke-width="1"/>
<line x1="226.4" y1="358.1666666666667" x2="228" y2="358.1666666666667" stroke="#3a3a3a" stroke-width="1"/>
<line x1="226.4" y1="351.5" x2="228" y2="351.5" stroke="#3a3a3a" stroke-width="1"/>
<line x1="225.8" y1="344.83333333333337" x2="228" y2="344.83333333333337" stroke="#3a3a3a" stroke-width="1"/>
<text x="225.1" y="347.83333333333337" text-anchor="end" style="font-family:'Liberation Sans',sans-serif;font-weight:bold;font-size:7.0px;letter-spacing:0.35px;stroke:#2e2e2e;stroke-width:0.35px" fill="#2e2e2e">0.15</text>
<line x1="226.4" y1="338.1666666666667" x2="228" y2="338.1666666666667" stroke="#3a3a3a" stroke-width="1"/>
<line x1="226.4" y1="331.5" x2="228" y2="331.5" stroke="#3a3a3a" stroke-width="1"/>
<line x1="226.4" y1="324.83333333333337" x2="228" y2="324.83333333333337" stroke="#3a3a3a" stroke-width="1"/>
<line x1="226.4" y1="318.1666666666667" x2="228" y2="318.1666666666667" stroke="#3a3a3a" stroke-width="1"/>
<line x1="225.8" y1="311.5" x2="228" y2="311.5" stroke="#3a3a3a" stroke-width="1"/>
<text x="225.1" y="314.5" text-anchor="end" style="font-family:'Liberation Sans',sans-serif;font-weight:bold;font-size:7.0px;letter-spacing:0.35px;stroke:#2e2e2e;stroke-width:0.35px" fill="#2e2e2e">0.2</text>
<line x1="239.08333333333334" y1="411.5" x2="239.08333333333334" y2="409.6" stroke="#3a3a3a" stroke-width="1"/>
<line x1="250.16666666666666" y1="411.5" x2="250.16666666666666" y2="409.6" stroke="#3a3a3a" stroke-width="1"/>
<line x1="261.25" y1="411.5" x2="261.25" y2="409.6" stroke="#3a3a3a" stroke-width="1"/>
<line x1="272.3333333333333" y1="411.5" x2="272.3333333333333" y2="409.6" stroke="#3a3a3a" stroke-width="1"/>
<line x1="283.4166666666667" y1="411.5" x2="283.4166666666667" y2="409.6" stroke="#3a3a3a" stroke-width="1"/>
<line x1="294.5" y1="411.5" x2="294.5" y2="409.6" stroke="#3a3a3a" stroke-width="1"/>
<line x1="305.58333333333337" y1="411.5" x2="305.58333333333337" y2="409.6" stroke="#3a3a3a" stroke-width="1"/>
<line x1="316.66666666666663" y1="411.5" x2="316.66666666666663" y2="409.6" stroke="#3a3a3a" stroke-width="1"/>
<line x1="327.75" y1="411.5" x2="327.75" y2="409.6" stroke="#3a3a3a" stroke-width="1"/>
<line x1="338.83333333333337" y1="411.5" x2="338.83333333333337" y2="409.6" stroke="#3a3a3a" stroke-width="1"/>
<line x1="349.91666666666663" y1="411.5" x2="349.91666666666663" y2="409.6" stroke="#3a3a3a" stroke-width="1"/>
<line x1="361.0" y1="411.5" x2="361.0" y2="409.6" stroke="#3a3a3a" stroke-width="1"/>
<text x="228.8" y="419.8" text-anchor="middle" style="font-family:'Liberation Sans',sans-serif;font-weight:bold;font-size:7.0px;letter-spacing:0.35px;stroke:#2e2e2e;stroke-width:0.35px" fill="#2e2e2e">0</text>
<text x="262.05" y="419.8" text-anchor="middle" style="font-family:'Liberation Sans',sans-serif;font-weight:bold;font-size:7.0px;letter-spacing:0.35px;stroke:#2e2e2e;stroke-width:0.35px" fill="#2e2e2e">90</text>
<text x="295.3" y="419.8" text-anchor="middle" style="font-family:'Liberation Sans',sans-serif;font-weight:bold;font-size:7.0px;letter-spacing:0.35px;stroke:#2e2e2e;stroke-width:0.35px" fill="#2e2e2e">180</text>
<text x="328.55" y="419.8" text-anchor="middle" style="font-family:'Liberation Sans',sans-serif;font-weight:bold;font-size:7.0px;letter-spacing:0.35px;stroke:#2e2e2e;stroke-width:0.35px" fill="#2e2e2e">270</text>
<text x="361.8" y="419.8" text-anchor="middle" style="font-family:'Liberation Sans',sans-serif;font-weight:bold;font-size:7.0px;letter-spacing:0.35px;stroke:#2e2e2e;stroke-width:0.35px" fill="#2e2e2e">360</text>
<text x="300.6" y="428.2" text-anchor="middle" style="font-family:'Liberation Sans',sans-serif;font-weight:bold;font-size:9.6px;letter-spacing:0.6px;stroke:#2e2e2e;stroke-width:0.35px" fill="#2e2e2e">Azimuth</text>
<path d="M228.00 356.97 L239.08 358.70 L250.17 362.17 L261.25 363.90 L272.33 362.17 L283.42 358.70 L294.50 356.97 L305.58 358.70 L316.67 362.17 L327.75 363.90 L338.83 362.17 L349.92 358.70 L361.00 356.97" fill="none" stroke="#0814f0" stroke-width="1.3" stroke-dasharray="3.5 2.5"/>
<circle cx="228.00" cy="356.97" r="2.9" fill="#0814f0"/>
<circle cx="239.08" cy="358.70" r="2.9" fill="#0814f0"/>
<circle cx="250.17" cy="362.17" r="2.9" fill="#0814f0"/>
<circle cx="261.25" cy="363.90" r="2.9" fill="#0814f0"/>
<circle cx="272.33" cy="362.17" r="2.9" fill="#0814f0"/>
<circle cx="283.42" cy="358.70" r="2.9" fill="#0814f0"/>
<circle cx="294.50" cy="356.97" r="2.9" fill="#0814f0"/>
<circle cx="305.58" cy="358.70" r="2.9" fill="#0814f0"/>
<circle cx="316.67" cy="362.17" r="2.9" fill="#0814f0"/>
<circle cx="327.75" cy="363.90" r="2.9" fill="#0814f0"/>
<circle cx="338.83" cy="362.17" r="2.9" fill="#0814f0"/>
<circle cx="349.92" cy="358.70" r="2.9" fill="#0814f0"/>
<circle cx="361.00" cy="356.97" r="2.9" fill="#0814f0"/>
<path d="M228.00 356.83 L239.08 357.95 L250.17 360.18 L261.25 361.30 L272.33 360.18 L283.42 357.95 L294.50 356.83 L305.58 357.95 L316.67 360.18 L327.75 361.30 L338.83 360.18 L349.92 357.95 L361.00 356.83" fill="none" stroke="#22c41e" stroke-width="1.3" stroke-dasharray="3.5 2.5"/>
<circle cx="228.00" cy="356.83" r="2.9" fill="#22c41e"/>
<circle cx="239.08" cy="357.95" r="2.9" fill="#22c41e"/>
<circle cx="250.17" cy="360.18" r="2.9" fill="#22c41e"/>
<circle cx="261.25" cy="361.30" r="2.9" fill="#22c41e"/>
<circle cx="272.33" cy="360.18" r="2.9" fill="#22c41e"/>
<circle cx="283.42" cy="357.95" r="2.9" fill="#22c41e"/>
<circle cx="294.50" cy="356.83" r="2.9" fill="#22c41e"/>
<circle cx="305.58" cy="357.95" r="2.9" fill="#22c41e"/>
<circle cx="316.67" cy="360.18" r="2.9" fill="#22c41e"/>
<circle cx="327.75" cy="361.30" r="2.9" fill="#22c41e"/>
<circle cx="338.83" cy="360.18" r="2.9" fill="#22c41e"/>
<circle cx="349.92" cy="357.95" r="2.9" fill="#22c41e"/>
<circle cx="361.00" cy="356.83" r="2.9" fill="#22c41e"/>
<path d="M228.00 356.70 L239.08 357.27 L250.17 358.40 L261.25 358.97 L272.33 358.40 L283.42 357.27 L294.50 356.70 L305.58 357.27 L316.67 358.40 L327.75 358.97 L338.83 358.40 L349.92 357.27 L361.00 356.70" fill="none" stroke="#f0100e" stroke-width="1.3" stroke-dasharray="3.5 2.5"/>
<circle cx="228.00" cy="356.70" r="2.9" fill="#f0100e"/>
<circle cx="239.08" cy="357.27" r="2.9" fill="#f0100e"/>
<circle cx="250.17" cy="358.40" r="2.9" fill="#f0100e"/>
<circle cx="261.25" cy="358.97" r="2.9" fill="#f0100e"/>
<circle cx="272.33" cy="358.40" r="2.9" fill="#f0100e"/>
<circle cx="283.42" cy="357.27" r="2.9" fill="#f0100e"/>
<circle cx="294.50" cy="356.70" r="2.9" fill="#f0100e"/>
<circle cx="305.58" cy="357.27" r="2.9" fill="#f0100e"/>
<circle cx="316.67" cy="358.40" r="2.9" fill="#f0100e"/>
<circle cx="327.75" cy="358.97" r="2.9" fill="#f0100e"/>
<circle cx="338.83" cy="358.40" r="2.9" fill="#f0100e"/>
<circle cx="349.92" cy="357.27" r="2.9" fill="#f0100e"/>
<circle cx="361.00" cy="356.70" r="2.9" fill="#f0100e"/>
<path d="M228.00 356.63 L239.08 356.93 L250.17 357.53 L261.25 357.83 L272.33 357.53 L283.42 356.93 L294.50 356.63 L305.58 356.93 L316.67 357.53 L327.75 357.83 L338.83 357.53 L349.92 356.93 L361.00 356.63" fill="none" stroke="#e8701e" stroke-width="1.3" stroke-dasharray="3.5 2.5"/>
<circle cx="228.00" cy="356.63" r="2.9" fill="#e8701e"/>
<circle cx="239.08" cy="356.93" r="2.9" fill="#e8701e"/>
<circle cx="250.17" cy="357.53" r="2.9" fill="#e8701e"/>
<circle cx="261.25" cy="357.83" r="2.9" fill="#e8701e"/>
<circle cx="272.33" cy="357.53" r="2.9" fill="#e8701e"/>
<circle cx="283.42" cy="356.93" r="2.9" fill="#e8701e"/>
<circle cx="294.50" cy="356.63" r="2.9" fill="#e8701e"/>
<circle cx="305.58" cy="356.93" r="2.9" fill="#e8701e"/>
<circle cx="316.67" cy="357.53" r="2.9" fill="#e8701e"/>
<circle cx="327.75" cy="357.83" r="2.9" fill="#e8701e"/>
<circle cx="338.83" cy="357.53" r="2.9" fill="#e8701e"/>
<circle cx="349.92" cy="356.93" r="2.9" fill="#e8701e"/>
<circle cx="361.00" cy="356.63" r="2.9" fill="#e8701e"/>
<path d="M227 451.5 L227 433.5 L362 433.5 L362 451.5" fill="none" stroke="#6e6e6e" stroke-width="1.2"/>
<line x1="243.0" y1="438.5" x2="265.0" y2="438.5" stroke="#0814f0" stroke-width="1.0" stroke-dasharray="3.4 2.6 9.4 2.6 4"/>
<circle cx="253.9" cy="438.5" r="2.0" fill="#0814f0"/>
<text x="269.5" y="441.2" style="font-family:'Liberation Sans',sans-serif;font-weight:bold;font-size:7.6px;letter-spacing:0.45px;stroke:#2e2e2e;stroke-width:0.2px" fill="#2e2e2e">200%</text>
<line x1="310.5" y1="438.5" x2="332.5" y2="438.5" stroke="#22c41e" stroke-width="1.0" stroke-dasharray="3.4 2.6 9.4 2.6 4"/>
<circle cx="321.4" cy="438.5" r="2.0" fill="#22c41e"/>
<text x="337.0" y="441.2" style="font-family:'Liberation Sans',sans-serif;font-weight:bold;font-size:7.6px;letter-spacing:0.45px;stroke:#2e2e2e;stroke-width:0.2px" fill="#2e2e2e">100%</text>
<line x1="243.0" y1="447.2" x2="265.0" y2="447.2" stroke="#f0100e" stroke-width="1.0" stroke-dasharray="3.4 2.6 9.4 2.6 4"/>
<circle cx="253.9" cy="447.2" r="2.0" fill="#f0100e"/>
<text x="269.5" y="449.9" style="font-family:'Liberation Sans',sans-serif;font-weight:bold;font-size:7.6px;letter-spacing:0.45px;stroke:#2e2e2e;stroke-width:0.2px" fill="#2e2e2e">50%</text>
<line x1="310.5" y1="447.2" x2="332.5" y2="447.2" stroke="#e8701e" stroke-width="1.0" stroke-dasharray="3.4 2.6 9.4 2.6 4"/>
<circle cx="321.4" cy="447.2" r="2.0" fill="#e8701e"/>
<text x="337.0" y="449.9" style="font-family:'Liberation Sans',sans-serif;font-weight:bold;font-size:7.6px;letter-spacing:0.45px;stroke:#2e2e2e;stroke-width:0.2px" fill="#2e2e2e">25%</text>
<text transform="translate(475.2,316.0) scale(1.0,1)" text-anchor="middle" style="font-family:'Liberation Sans',sans-serif;font-weight:bold;font-size:9.5px;letter-spacing:0.42px;stroke:#2e2e2e;stroke-width:0.22px" fill="#2e2e2e">Incident angle of 25°</text>
<path d="M400.7 311.5 L400.7 411.5 L534.2 411.5" fill="none" stroke="#333" stroke-width="1.35"/>
<line x1="398.5" y1="411.5" x2="400.7" y2="411.5" stroke="#3a3a3a" stroke-width="1"/>
<text x="397.8" y="414.5" text-anchor="end" style="font-family:'Liberation Sans',sans-serif;font-weight:bold;font-size:7.0px;letter-spacing:0.35px;stroke:#2e2e2e;stroke-width:0.35px" fill="#2e2e2e">0.05</text>
<line x1="399.09999999999997" y1="404.8333333333333" x2="400.7" y2="404.8333333333333" stroke="#3a3a3a" stroke-width="1"/>
<line x1="399.09999999999997" y1="398.1666666666667" x2="400.7" y2="398.1666666666667" stroke="#3a3a3a" stroke-width="1"/>
<line x1="399.09999999999997" y1="391.5" x2="400.7" y2="391.5" stroke="#3a3a3a" stroke-width="1"/>
<line x1="399.09999999999997" y1="384.8333333333333" x2="400.7" y2="384.8333333333333" stroke="#3a3a3a" stroke-width="1"/>
<line x1="398.5" y1="378.1666666666667" x2="400.7" y2="378.1666666666667" stroke="#3a3a3a" stroke-width="1"/>
<text x="397.8" y="381.1666666666667" text-anchor="end" style="font-family:'Liberation Sans',sans-serif;font-weight:bold;font-size:7.0px;letter-spacing:0.35px;stroke:#2e2e2e;stroke-width:0.35px" fill="#2e2e2e">0.1</text>
<line x1="399.09999999999997" y1="371.5" x2="400.7" y2="371.5" stroke="#3a3a3a" stroke-width="1"/>
<line x1="399.09999999999997" y1="364.83333333333337" x2="400.7" y2="364.83333333333337" stroke="#3a3a3a" stroke-width="1"/>
<line x1="399.09999999999997" y1="358.1666666666667" x2="400.7" y2="358.1666666666667" stroke="#3a3a3a" stroke-width="1"/>
<line x1="399.09999999999997" y1="351.5" x2="400.7" y2="351.5" stroke="#3a3a3a" stroke-width="1"/>
<line x1="398.5" y1="344.83333333333337" x2="400.7" y2="344.83333333333337" stroke="#3a3a3a" stroke-width="1"/>
<text x="397.8" y="347.83333333333337" text-anchor="end" style="font-family:'Liberation Sans',sans-serif;font-weight:bold;font-size:7.0px;letter-spacing:0.35px;stroke:#2e2e2e;stroke-width:0.35px" fill="#2e2e2e">0.15</text>
<line x1="399.09999999999997" y1="338.1666666666667" x2="400.7" y2="338.1666666666667" stroke="#3a3a3a" stroke-width="1"/>
<line x1="399.09999999999997" y1="331.5" x2="400.7" y2="331.5" stroke="#3a3a3a" stroke-width="1"/>
<line x1="399.09999999999997" y1="324.83333333333337" x2="400.7" y2="324.83333333333337" stroke="#3a3a3a" stroke-width="1"/>
<line x1="399.09999999999997" y1="318.1666666666667" x2="400.7" y2="318.1666666666667" stroke="#3a3a3a" stroke-width="1"/>
<line x1="398.5" y1="311.5" x2="400.7" y2="311.5" stroke="#3a3a3a" stroke-width="1"/>
<text x="397.8" y="314.5" text-anchor="end" style="font-family:'Liberation Sans',sans-serif;font-weight:bold;font-size:7.0px;letter-spacing:0.35px;stroke:#2e2e2e;stroke-width:0.35px" fill="#2e2e2e">0.2</text>
<line x1="411.7833333333333" y1="411.5" x2="411.7833333333333" y2="409.6" stroke="#3a3a3a" stroke-width="1"/>
<line x1="422.8666666666667" y1="411.5" x2="422.8666666666667" y2="409.6" stroke="#3a3a3a" stroke-width="1"/>
<line x1="433.95" y1="411.5" x2="433.95" y2="409.6" stroke="#3a3a3a" stroke-width="1"/>
<line x1="445.0333333333333" y1="411.5" x2="445.0333333333333" y2="409.6" stroke="#3a3a3a" stroke-width="1"/>
<line x1="456.1166666666667" y1="411.5" x2="456.1166666666667" y2="409.6" stroke="#3a3a3a" stroke-width="1"/>
<line x1="467.2" y1="411.5" x2="467.2" y2="409.6" stroke="#3a3a3a" stroke-width="1"/>
<line x1="478.2833333333333" y1="411.5" x2="478.2833333333333" y2="409.6" stroke="#3a3a3a" stroke-width="1"/>
<line x1="489.3666666666667" y1="411.5" x2="489.3666666666667" y2="409.6" stroke="#3a3a3a" stroke-width="1"/>
<line x1="500.45" y1="411.5" x2="500.45" y2="409.6" stroke="#3a3a3a" stroke-width="1"/>
<line x1="511.5333333333333" y1="411.5" x2="511.5333333333333" y2="409.6" stroke="#3a3a3a" stroke-width="1"/>
<line x1="522.6166666666667" y1="411.5" x2="522.6166666666667" y2="409.6" stroke="#3a3a3a" stroke-width="1"/>
<line x1="533.7" y1="411.5" x2="533.7" y2="409.6" stroke="#3a3a3a" stroke-width="1"/>
<text x="401.5" y="419.8" text-anchor="middle" style="font-family:'Liberation Sans',sans-serif;font-weight:bold;font-size:7.0px;letter-spacing:0.35px;stroke:#2e2e2e;stroke-width:0.35px" fill="#2e2e2e">0</text>
<text x="434.75" y="419.8" text-anchor="middle" style="font-family:'Liberation Sans',sans-serif;font-weight:bold;font-size:7.0px;letter-spacing:0.35px;stroke:#2e2e2e;stroke-width:0.35px" fill="#2e2e2e">90</text>
<text x="468.0" y="419.8" text-anchor="middle" style="font-family:'Liberation Sans',sans-serif;font-weight:bold;font-size:7.0px;letter-spacing:0.35px;stroke:#2e2e2e;stroke-width:0.35px" fill="#2e2e2e">180</text>
<text x="501.25" y="419.8" text-anchor="middle" style="font-family:'Liberation Sans',sans-serif;font-weight:bold;font-size:7.0px;letter-spacing:0.35px;stroke:#2e2e2e;stroke-width:0.35px" fill="#2e2e2e">270</text>
<text x="534.5" y="419.8" text-anchor="middle" style="font-family:'Liberation Sans',sans-serif;font-weight:bold;font-size:7.0px;letter-spacing:0.35px;stroke:#2e2e2e;stroke-width:0.35px" fill="#2e2e2e">360</text>
<text x="469.29999999999995" y="428.2" text-anchor="middle" style="font-family:'Liberation Sans',sans-serif;font-weight:bold;font-size:9.6px;letter-spacing:0.6px;stroke:#2e2e2e;stroke-width:0.35px" fill="#2e2e2e">Azimuth</text>
<path d="M400.70 371.30 L411.78 375.92 L422.87 385.15 L433.95 389.77 L445.03 385.15 L456.12 375.92 L467.20 371.30 L478.28 375.92 L489.37 385.15 L500.45 389.77 L511.53 385.15 L522.62 375.92 L533.70 371.30" fill="none" stroke="#0814f0" stroke-width="1.3" stroke-dasharray="3.5 2.5"/>
<circle cx="400.70" cy="371.30" r="2.9" fill="#0814f0"/>
<circle cx="411.78" cy="375.92" r="2.9" fill="#0814f0"/>
<circle cx="422.87" cy="385.15" r="2.9" fill="#0814f0"/>
<circle cx="433.95" cy="389.77" r="2.9" fill="#0814f0"/>
<circle cx="445.03" cy="385.15" r="2.9" fill="#0814f0"/>
<circle cx="456.12" cy="375.92" r="2.9" fill="#0814f0"/>
<circle cx="467.20" cy="371.30" r="2.9" fill="#0814f0"/>
<circle cx="478.28" cy="375.92" r="2.9" fill="#0814f0"/>
<circle cx="489.37" cy="385.15" r="2.9" fill="#0814f0"/>
<circle cx="500.45" cy="389.77" r="2.9" fill="#0814f0"/>
<circle cx="511.53" cy="385.15" r="2.9" fill="#0814f0"/>
<circle cx="522.62" cy="375.92" r="2.9" fill="#0814f0"/>
<circle cx="533.70" cy="371.30" r="2.9" fill="#0814f0"/>
<path d="M400.70 370.63 L411.78 372.88 L422.87 377.38 L433.95 379.63 L445.03 377.38 L456.12 372.88 L467.20 370.63 L478.28 372.88 L489.37 377.38 L500.45 379.63 L511.53 377.38 L522.62 372.88 L533.70 370.63" fill="none" stroke="#22c41e" stroke-width="1.3" stroke-dasharray="3.5 2.5"/>
<circle cx="400.70" cy="370.63" r="2.9" fill="#22c41e"/>
<circle cx="411.78" cy="372.88" r="2.9" fill="#22c41e"/>
<circle cx="422.87" cy="377.38" r="2.9" fill="#22c41e"/>
<circle cx="433.95" cy="379.63" r="2.9" fill="#22c41e"/>
<circle cx="445.03" cy="377.38" r="2.9" fill="#22c41e"/>
<circle cx="456.12" cy="372.88" r="2.9" fill="#22c41e"/>
<circle cx="467.20" cy="370.63" r="2.9" fill="#22c41e"/>
<circle cx="478.28" cy="372.88" r="2.9" fill="#22c41e"/>
<circle cx="489.37" cy="377.38" r="2.9" fill="#22c41e"/>
<circle cx="500.45" cy="379.63" r="2.9" fill="#22c41e"/>
<circle cx="511.53" cy="377.38" r="2.9" fill="#22c41e"/>
<circle cx="522.62" cy="372.88" r="2.9" fill="#22c41e"/>
<circle cx="533.70" cy="370.63" r="2.9" fill="#22c41e"/>
<path d="M400.70 370.37 L411.78 371.37 L422.87 373.37 L433.95 374.37 L445.03 373.37 L456.12 371.37 L467.20 370.37 L478.28 371.37 L489.37 373.37 L500.45 374.37 L511.53 373.37 L522.62 371.37 L533.70 370.37" fill="none" stroke="#f0100e" stroke-width="1.3" stroke-dasharray="3.5 2.5"/>
<circle cx="400.70" cy="370.37" r="2.9" fill="#f0100e"/>
<circle cx="411.78" cy="371.37" r="2.9" fill="#f0100e"/>
<circle cx="422.87" cy="373.37" r="2.9" fill="#f0100e"/>
<circle cx="433.95" cy="374.37" r="2.9" fill="#f0100e"/>
<circle cx="445.03" cy="373.37" r="2.9" fill="#f0100e"/>
<circle cx="456.12" cy="371.37" r="2.9" fill="#f0100e"/>
<circle cx="467.20" cy="370.37" r="2.9" fill="#f0100e"/>
<circle cx="478.28" cy="371.37" r="2.9" fill="#f0100e"/>
<circle cx="489.37" cy="373.37" r="2.9" fill="#f0100e"/>
<circle cx="500.45" cy="374.37" r="2.9" fill="#f0100e"/>
<circle cx="511.53" cy="373.37" r="2.9" fill="#f0100e"/>
<circle cx="522.62" cy="371.37" r="2.9" fill="#f0100e"/>
<circle cx="533.70" cy="370.37" r="2.9" fill="#f0100e"/>
<path d="M400.70 370.17 L411.78 370.72 L422.87 371.82 L433.95 372.37 L445.03 371.82 L456.12 370.72 L467.20 370.17 L478.28 370.72 L489.37 371.82 L500.45 372.37 L511.53 371.82 L522.62 370.72 L533.70 370.17" fill="none" stroke="#e8701e" stroke-width="1.3" stroke-dasharray="3.5 2.5"/>
<circle cx="400.70" cy="370.17" r="2.9" fill="#e8701e"/>
<circle cx="411.78" cy="370.72" r="2.9" fill="#e8701e"/>
<circle cx="422.87" cy="371.82" r="2.9" fill="#e8701e"/>
<circle cx="433.95" cy="372.37" r="2.9" fill="#e8701e"/>
<circle cx="445.03" cy="371.82" r="2.9" fill="#e8701e"/>
<circle cx="456.12" cy="370.72" r="2.9" fill="#e8701e"/>
<circle cx="467.20" cy="370.17" r="2.9" fill="#e8701e"/>
<circle cx="478.28" cy="370.72" r="2.9" fill="#e8701e"/>
<circle cx="489.37" cy="371.82" r="2.9" fill="#e8701e"/>
<circle cx="500.45" cy="372.37" r="2.9" fill="#e8701e"/>
<circle cx="511.53" cy="371.82" r="2.9" fill="#e8701e"/>
<circle cx="522.62" cy="370.72" r="2.9" fill="#e8701e"/>
<circle cx="533.70" cy="370.17" r="2.9" fill="#e8701e"/>
<path d="M399.7 451.5 L399.7 433.5 L534.7 433.5 L534.7 451.5" fill="none" stroke="#6e6e6e" stroke-width="1.2"/>
<line x1="415.7" y1="438.5" x2="437.7" y2="438.5" stroke="#0814f0" stroke-width="1.0" stroke-dasharray="3.4 2.6 9.4 2.6 4"/>
<circle cx="426.59999999999997" cy="438.5" r="2.0" fill="#0814f0"/>
<text x="442.2" y="441.2" style="font-family:'Liberation Sans',sans-serif;font-weight:bold;font-size:7.6px;letter-spacing:0.45px;stroke:#2e2e2e;stroke-width:0.2px" fill="#2e2e2e">200%</text>
<line x1="483.2" y1="438.5" x2="505.2" y2="438.5" stroke="#22c41e" stroke-width="1.0" stroke-dasharray="3.4 2.6 9.4 2.6 4"/>
<circle cx="494.09999999999997" cy="438.5" r="2.0" fill="#22c41e"/>
<text x="509.7" y="441.2" style="font-family:'Liberation Sans',sans-serif;font-weight:bold;font-size:7.6px;letter-spacing:0.45px;stroke:#2e2e2e;stroke-width:0.2px" fill="#2e2e2e">100%</text>
<line x1="415.7" y1="447.2" x2="437.7" y2="447.2" stroke="#f0100e" stroke-width="1.0" stroke-dasharray="3.4 2.6 9.4 2.6 4"/>
<circle cx="426.59999999999997" cy="447.2" r="2.0" fill="#f0100e"/>
<text x="442.2" y="449.9" style="font-family:'Liberation Sans',sans-serif;font-weight:bold;font-size:7.6px;letter-spacing:0.45px;stroke:#2e2e2e;stroke-width:0.2px" fill="#2e2e2e">50%</text>
<line x1="483.2" y1="447.2" x2="505.2" y2="447.2" stroke="#e8701e" stroke-width="1.0" stroke-dasharray="3.4 2.6 9.4 2.6 4"/>
<circle cx="494.09999999999997" cy="447.2" r="2.0" fill="#e8701e"/>
<text x="509.7" y="449.9" style="font-family:'Liberation Sans',sans-serif;font-weight:bold;font-size:7.6px;letter-spacing:0.45px;stroke:#2e2e2e;stroke-width:0.2px" fill="#2e2e2e">25%</text>
</svg></body></html>
